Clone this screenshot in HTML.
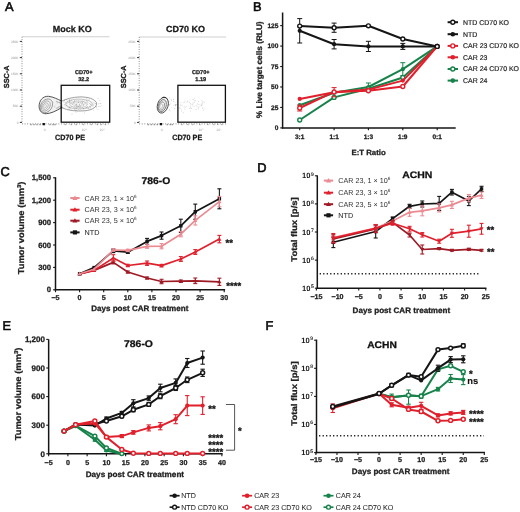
<!DOCTYPE html>
<html><head><meta charset="utf-8"><style>
html,body{margin:0;padding:0;background:#fff;}
body{width:520px;height:512px;overflow:hidden;}
svg{display:block;will-change:transform;filter:blur(0.3px);}
text{font-family:"Liberation Sans", sans-serif;text-rendering:geometricPrecision;}
</style></head><body>
<svg width="520" height="512" viewBox="0 0 520 512">
<rect width="520" height="512" fill="#fff"/>
<text x="4.90" y="11.20" font-size="12.8" font-weight="normal" text-anchor="start" fill="#0a0a0a" stroke="#0a0a0a" stroke-width="0.6">A</text>
<text x="253.00" y="11.00" font-size="12.8" font-weight="normal" text-anchor="start" fill="#0a0a0a" stroke="#0a0a0a" stroke-width="0.6">B</text>
<text x="0.60" y="175.80" font-size="12.8" font-weight="normal" text-anchor="start" fill="#0a0a0a" stroke="#0a0a0a" stroke-width="0.6">C</text>
<text x="257.20" y="172.10" font-size="12.8" font-weight="normal" text-anchor="start" fill="#0a0a0a" stroke="#0a0a0a" stroke-width="0.6">D</text>
<text x="2.40" y="330.00" font-size="12.8" font-weight="normal" text-anchor="start" fill="#0a0a0a" stroke="#0a0a0a" stroke-width="0.6">E</text>
<text x="265.60" y="330.30" font-size="12.8" font-weight="normal" text-anchor="start" fill="#0a0a0a" stroke="#0a0a0a" stroke-width="0.6">F</text>
<text x="52.70" y="31.50" font-size="8.8" font-weight="bold" text-anchor="start" fill="#1a1a1a"  stroke="#1a1a1a" stroke-width="0.28" textLength="39.00" lengthAdjust="spacingAndGlyphs">Mock KO</text>
<line x1="22.00" y1="36.80" x2="109.50" y2="36.80" stroke="#cfcfcf" stroke-width="1.1" />
<line x1="22.00" y1="36.80" x2="22.00" y2="123.00" stroke="#555" stroke-width="0.7" stroke-dasharray="0.9,1.5"/>
<line x1="19.80" y1="122.40" x2="22.00" y2="122.40" stroke="#333" stroke-width="1.0" />
<text x="18.50" y="123.50" font-size="3.2" font-weight="normal" text-anchor="end" fill="#999" stroke="none">0</text>
<line x1="19.80" y1="106.20" x2="22.00" y2="106.20" stroke="#333" stroke-width="1.0" />
<text x="18.50" y="107.30" font-size="3.2" font-weight="normal" text-anchor="end" fill="#999" stroke="none">50K</text>
<line x1="19.80" y1="90.00" x2="22.00" y2="90.00" stroke="#333" stroke-width="1.0" />
<text x="18.50" y="91.10" font-size="3.2" font-weight="normal" text-anchor="end" fill="#999" stroke="none">100K</text>
<line x1="19.80" y1="73.80" x2="22.00" y2="73.80" stroke="#333" stroke-width="1.0" />
<text x="18.50" y="74.90" font-size="3.2" font-weight="normal" text-anchor="end" fill="#999" stroke="none">150K</text>
<line x1="19.80" y1="57.60" x2="22.00" y2="57.60" stroke="#333" stroke-width="1.0" />
<text x="18.50" y="58.70" font-size="3.2" font-weight="normal" text-anchor="end" fill="#999" stroke="none">200K</text>
<line x1="19.80" y1="41.40" x2="22.00" y2="41.40" stroke="#333" stroke-width="1.0" />
<text x="18.50" y="42.50" font-size="3.2" font-weight="normal" text-anchor="end" fill="#999" stroke="none">250K</text>
<line x1="22.00" y1="123.90" x2="109.50" y2="123.90" stroke="#444" stroke-width="0.7" stroke-dasharray="0.9,1.7"/>
<line x1="31.00" y1="123.90" x2="31.00" y2="125.30" stroke="#333" stroke-width="0.7" />
<line x1="34.00" y1="123.90" x2="34.00" y2="125.30" stroke="#333" stroke-width="0.7" />
<line x1="37.00" y1="123.90" x2="37.00" y2="125.30" stroke="#333" stroke-width="0.7" />
<line x1="40.00" y1="123.90" x2="40.00" y2="125.30" stroke="#333" stroke-width="0.7" />
<line x1="44.00" y1="123.90" x2="44.00" y2="125.30" stroke="#333" stroke-width="0.7" />
<line x1="50.00" y1="123.90" x2="50.00" y2="125.30" stroke="#333" stroke-width="0.7" />
<line x1="53.00" y1="123.90" x2="53.00" y2="125.30" stroke="#333" stroke-width="0.7" />
<line x1="55.00" y1="123.90" x2="55.00" y2="125.30" stroke="#333" stroke-width="0.7" />
<rect x="42.50" y="123.00" width="2.4" height="2.2" fill="#111"/>
<line x1="65.20" y1="123.90" x2="65.20" y2="125.20" stroke="#444" stroke-width="0.6" />
<line x1="71.20" y1="123.90" x2="71.20" y2="125.20" stroke="#444" stroke-width="0.6" />
<line x1="76.20" y1="123.90" x2="76.20" y2="125.20" stroke="#444" stroke-width="0.6" />
<line x1="83.20" y1="123.90" x2="83.20" y2="125.20" stroke="#444" stroke-width="0.6" />
<line x1="91.20" y1="123.90" x2="91.20" y2="125.20" stroke="#444" stroke-width="0.6" />
<line x1="97.20" y1="123.90" x2="97.20" y2="125.20" stroke="#444" stroke-width="0.6" />
<line x1="101.20" y1="123.90" x2="101.20" y2="125.20" stroke="#444" stroke-width="0.6" />
<line x1="105.20" y1="123.90" x2="105.20" y2="125.20" stroke="#444" stroke-width="0.6" />
<text x="44.60" y="130.50" font-size="3.4" font-weight="normal" text-anchor="middle" fill="#999" stroke="none">0</text>
<text x="84.20" y="130.50" font-size="3.4" font-weight="normal" text-anchor="middle" fill="#999" stroke="none">10³</text>
<text x="102.20" y="130.50" font-size="3.4" font-weight="normal" text-anchor="middle" fill="#999" stroke="none">10⁴</text>
<text transform="translate(8.50,76.80) rotate(-90)" font-size="7.3" font-weight="bold" text-anchor="middle" fill="#1a1a1a" textLength="22.80" lengthAdjust="spacingAndGlyphs" stroke="#1a1a1a" stroke-width="0.28">SSC-A</text>
<text x="70.00" y="140.40" font-size="7.6" font-weight="bold" text-anchor="middle" fill="#1a1a1a"  stroke="#1a1a1a" stroke-width="0.28" textLength="30.00" lengthAdjust="spacingAndGlyphs">CD70 PE</text>
<path d="M61.5,101.2 C66,99.0 72,97.2 80,96.9 C88,96.9 94,98.6 96.5,102.6 C97.5,106.5 93,110.0 85,110.8 C76,111.5 68,110.5 61.5,107.6" fill="#fafafa" stroke="#6e6e6e" stroke-width="0.65"/>
<ellipse cx="79" cy="104" rx="13.5" ry="4.9" fill="none" stroke="#999" stroke-width="0.55"/>
<ellipse cx="78.5" cy="104.3" rx="9.0" ry="3.2" fill="none" stroke="#aaa" stroke-width="0.55"/>
<ellipse cx="78" cy="104.5" rx="5.0" ry="1.8" fill="none" stroke="#bbb" stroke-width="0.5"/>
<path d="M61.5,100.9 C57.5,99.2 53.5,96.9 48.5,96.3 C42.5,95.9 39.0,101.0 39.1,106.6 C39.3,111.2 42.2,113.9 46.2,113.7 C50.5,113.5 55.5,111.4 61.5,107.7" fill="#f1f1f1" stroke="#4a4a4a" stroke-width="0.95"/>
<path d="M56,101.2 C58,102.2 59.8,103.0 61.5,103.6 M56,108.6 C58,107.3 59.8,106.4 61.5,105.8" fill="none" stroke="#888" stroke-width="0.55"/>
<g transform="rotate(35 46.4 105.8)"><ellipse cx="46.4" cy="105.8" rx="5.6" ry="7.4" fill="none" stroke="#7a7a7a" stroke-width="0.65"/><ellipse cx="46.0" cy="106.3" rx="4.0" ry="5.5" fill="none" stroke="#888" stroke-width="0.6"/><ellipse cx="45.7" cy="106.7" rx="2.6" ry="3.6" fill="none" stroke="#999" stroke-width="0.55"/><ellipse cx="45.5" cy="107.0" rx="1.3" ry="1.8" fill="none" stroke="#aaa" stroke-width="0.5"/></g>
<rect x="76.2" y="105.8" width="0.6" height="0.6" fill="rgb(193,193,193)"/>
<rect x="98.5" y="106.0" width="0.6" height="0.6" fill="rgb(122,122,122)"/>
<rect x="76.5" y="104.9" width="0.6" height="0.6" fill="rgb(174,174,174)"/>
<rect x="80.0" y="105.5" width="0.6" height="0.6" fill="rgb(163,163,163)"/>
<rect x="83.3" y="104.7" width="0.6" height="0.6" fill="rgb(164,164,164)"/>
<rect x="92.2" y="105.7" width="0.6" height="0.6" fill="rgb(138,138,138)"/>
<rect x="69.1" y="100.5" width="0.6" height="0.6" fill="rgb(117,117,117)"/>
<rect x="69.2" y="102.3" width="0.6" height="0.6" fill="rgb(138,138,138)"/>
<rect x="99.8" y="106.1" width="0.6" height="0.6" fill="rgb(147,147,147)"/>
<rect x="67.0" y="106.2" width="0.6" height="0.6" fill="rgb(183,183,183)"/>
<rect x="71.7" y="110.2" width="0.6" height="0.6" fill="rgb(133,133,133)"/>
<rect x="90.4" y="106.8" width="0.6" height="0.6" fill="rgb(134,134,134)"/>
<rect x="69.4" y="107.3" width="0.6" height="0.6" fill="rgb(118,118,118)"/>
<rect x="65.0" y="102.0" width="0.6" height="0.6" fill="rgb(173,173,173)"/>
<rect x="74.1" y="100.6" width="0.6" height="0.6" fill="rgb(150,150,150)"/>
<rect x="54.6" y="105.8" width="0.6" height="0.6" fill="rgb(156,156,156)"/>
<rect x="73.0" y="110.1" width="0.6" height="0.6" fill="rgb(199,199,199)"/>
<rect x="79.8" y="102.5" width="0.6" height="0.6" fill="rgb(148,148,148)"/>
<rect x="56.8" y="102.8" width="0.6" height="0.6" fill="rgb(167,167,167)"/>
<rect x="71.7" y="113.8" width="0.6" height="0.6" fill="rgb(125,125,125)"/>
<rect x="72.4" y="103.8" width="0.6" height="0.6" fill="rgb(153,153,153)"/>
<rect x="86.4" y="107.4" width="0.6" height="0.6" fill="rgb(115,115,115)"/>
<rect x="83.3" y="103.7" width="0.6" height="0.6" fill="rgb(181,181,181)"/>
<rect x="58.9" y="100.7" width="0.6" height="0.6" fill="rgb(150,150,150)"/>
<rect x="73.5" y="106.8" width="0.6" height="0.6" fill="rgb(173,173,173)"/>
<rect x="68.4" y="102.1" width="0.6" height="0.6" fill="rgb(121,121,121)"/>
<rect x="90.7" y="102.6" width="0.6" height="0.6" fill="rgb(195,195,195)"/>
<rect x="95.4" y="106.3" width="0.6" height="0.6" fill="rgb(149,149,149)"/>
<rect x="82.9" y="101.3" width="0.6" height="0.6" fill="rgb(159,159,159)"/>
<rect x="86.7" y="101.8" width="0.6" height="0.6" fill="rgb(169,169,169)"/>
<rect x="69.7" y="107.9" width="0.6" height="0.6" fill="rgb(173,173,173)"/>
<rect x="96.5" y="106.2" width="0.6" height="0.6" fill="rgb(126,126,126)"/>
<rect x="78.2" y="100.4" width="0.6" height="0.6" fill="rgb(173,173,173)"/>
<rect x="89.5" y="105.9" width="0.6" height="0.6" fill="rgb(180,180,180)"/>
<rect x="78.0" y="105.9" width="0.6" height="0.6" fill="rgb(165,165,165)"/>
<rect x="84.8" y="101.8" width="0.6" height="0.6" fill="rgb(163,163,163)"/>
<rect x="95.6" y="103.5" width="0.6" height="0.6" fill="rgb(158,158,158)"/>
<rect x="85.1" y="103.5" width="0.6" height="0.6" fill="rgb(132,132,132)"/>
<rect x="88.4" y="108.3" width="0.6" height="0.6" fill="rgb(111,111,111)"/>
<rect x="64.4" y="104.5" width="0.6" height="0.6" fill="rgb(143,143,143)"/>
<rect x="77.8" y="106.0" width="0.6" height="0.6" fill="rgb(178,178,178)"/>
<rect x="69.3" y="107.4" width="0.6" height="0.6" fill="rgb(126,126,126)"/>
<rect x="74.2" y="100.0" width="0.6" height="0.6" fill="rgb(189,189,189)"/>
<rect x="68.9" y="99.1" width="0.6" height="0.6" fill="rgb(168,168,168)"/>
<rect x="94.5" y="100.3" width="0.6" height="0.6" fill="rgb(197,197,197)"/>
<rect x="82.3" y="100.6" width="0.6" height="0.6" fill="rgb(161,161,161)"/>
<rect x="69.1" y="106.5" width="0.6" height="0.6" fill="rgb(161,161,161)"/>
<rect x="82.8" y="104.5" width="0.6" height="0.6" fill="rgb(136,136,136)"/>
<rect x="74.1" y="104.6" width="0.6" height="0.6" fill="rgb(186,186,186)"/>
<rect x="79.2" y="104.0" width="0.6" height="0.6" fill="rgb(129,129,129)"/>
<rect x="52.9" y="102.0" width="0.6" height="0.6" fill="rgb(188,188,188)"/>
<rect x="101.1" y="105.2" width="0.6" height="0.6" fill="rgb(188,188,188)"/>
<rect x="67.9" y="107.6" width="0.6" height="0.6" fill="rgb(154,154,154)"/>
<rect x="69.0" y="101.6" width="0.6" height="0.6" fill="rgb(124,124,124)"/>
<rect x="66.6" y="104.9" width="0.6" height="0.6" fill="rgb(120,120,120)"/>
<rect x="90.3" y="108.7" width="0.6" height="0.6" fill="rgb(143,143,143)"/>
<rect x="62.3" y="104.7" width="0.6" height="0.6" fill="rgb(176,176,176)"/>
<rect x="72.9" y="103.6" width="0.6" height="0.6" fill="rgb(179,179,179)"/>
<rect x="94.9" y="100.9" width="0.6" height="0.6" fill="rgb(148,148,148)"/>
<rect x="100.7" y="103.0" width="0.6" height="0.6" fill="rgb(199,199,199)"/>
<rect x="86.5" y="100.4" width="0.6" height="0.6" fill="rgb(131,131,131)"/>
<rect x="74.2" y="106.0" width="0.6" height="0.6" fill="rgb(179,179,179)"/>
<rect x="80.8" y="100.8" width="0.6" height="0.6" fill="rgb(138,138,138)"/>
<rect x="64.3" y="99.9" width="0.6" height="0.6" fill="rgb(134,134,134)"/>
<rect x="86.0" y="97.8" width="0.6" height="0.6" fill="rgb(139,139,139)"/>
<rect x="83.0" y="108.0" width="0.6" height="0.6" fill="rgb(113,113,113)"/>
<rect x="98.4" y="103.6" width="0.6" height="0.6" fill="rgb(170,170,170)"/>
<rect x="78.0" y="109.5" width="0.6" height="0.6" fill="rgb(154,154,154)"/>
<rect x="54.5" y="106.8" width="0.6" height="0.6" fill="rgb(154,154,154)"/>
<rect x="89.1" y="103.0" width="0.6" height="0.6" fill="rgb(138,138,138)"/>
<rect x="88.9" y="106.4" width="0.6" height="0.6" fill="rgb(153,153,153)"/>
<rect x="83.4" y="108.8" width="0.6" height="0.6" fill="rgb(188,188,188)"/>
<rect x="85.8" y="100.5" width="0.6" height="0.6" fill="rgb(193,193,193)"/>
<rect x="70.2" y="108.3" width="0.6" height="0.6" fill="rgb(194,194,194)"/>
<rect x="87.0" y="106.4" width="0.6" height="0.6" fill="rgb(135,135,135)"/>
<rect x="72.2" y="104.3" width="0.6" height="0.6" fill="rgb(191,191,191)"/>
<rect x="69.2" y="109.6" width="0.6" height="0.6" fill="rgb(160,160,160)"/>
<rect x="61.3" y="105.4" width="0.6" height="0.6" fill="rgb(120,120,120)"/>
<rect x="77.9" y="101.8" width="0.6" height="0.6" fill="rgb(126,126,126)"/>
<rect x="93.5" y="104.8" width="0.6" height="0.6" fill="rgb(169,169,169)"/>
<rect x="81.1" y="102.1" width="0.6" height="0.6" fill="rgb(186,186,186)"/>
<rect x="95.0" y="103.3" width="0.6" height="0.6" fill="rgb(154,154,154)"/>
<rect x="86.7" y="107.8" width="0.6" height="0.6" fill="rgb(112,112,112)"/>
<rect x="71.1" y="100.4" width="0.6" height="0.6" fill="rgb(127,127,127)"/>
<rect x="58.6" y="106.9" width="0.6" height="0.6" fill="rgb(137,137,137)"/>
<rect x="86.5" y="104.4" width="0.6" height="0.6" fill="rgb(174,174,174)"/>
<rect x="79.9" y="108.8" width="0.6" height="0.6" fill="rgb(143,143,143)"/>
<rect x="59.0" y="102.1" width="0.6" height="0.6" fill="rgb(117,117,117)"/>
<rect x="87.7" y="102.2" width="0.6" height="0.6" fill="rgb(168,168,168)"/>
<rect x="68.4" y="98.4" width="0.6" height="0.6" fill="rgb(176,176,176)"/>
<rect x="57.4" y="107.8" width="0.6" height="0.6" fill="rgb(174,174,174)"/>
<rect x="83.3" y="105.5" width="0.6" height="0.6" fill="rgb(175,175,175)"/>
<rect x="90.8" y="104.5" width="0.6" height="0.6" fill="rgb(133,133,133)"/>
<rect x="64.2" y="100.1" width="0.6" height="0.6" fill="rgb(129,129,129)"/>
<rect x="84.8" y="107.6" width="0.6" height="0.6" fill="rgb(125,125,125)"/>
<rect x="69.8" y="102.9" width="0.6" height="0.6" fill="rgb(176,176,176)"/>
<rect x="66.6" y="103.2" width="0.6" height="0.6" fill="rgb(123,123,123)"/>
<rect x="81.8" y="103.2" width="0.6" height="0.6" fill="rgb(134,134,134)"/>
<rect x="75.8" y="110.1" width="0.6" height="0.6" fill="rgb(174,174,174)"/>
<rect x="76.5" y="104.3" width="0.6" height="0.6" fill="rgb(118,118,118)"/>
<rect x="64.8" y="105.7" width="0.6" height="0.6" fill="rgb(174,174,174)"/>
<rect x="73.2" y="102.5" width="0.6" height="0.6" fill="rgb(145,145,145)"/>
<rect x="66.0" y="105.3" width="0.6" height="0.6" fill="rgb(171,171,171)"/>
<rect x="70.7" y="103.9" width="0.6" height="0.6" fill="rgb(176,176,176)"/>
<rect x="97.7" y="98.0" width="0.6" height="0.6" fill="rgb(143,143,143)"/>
<rect x="99.6" y="100.5" width="0.6" height="0.6" fill="rgb(135,135,135)"/>
<rect x="82.2" y="102.3" width="0.6" height="0.6" fill="rgb(125,125,125)"/>
<rect x="71.5" y="106.0" width="0.6" height="0.6" fill="rgb(195,195,195)"/>
<rect x="79.3" y="105.4" width="0.6" height="0.6" fill="rgb(195,195,195)"/>
<rect x="77.2" y="105.7" width="0.6" height="0.6" fill="rgb(129,129,129)"/>
<rect x="93.7" y="102.1" width="0.6" height="0.6" fill="rgb(156,156,156)"/>
<rect x="93.2" y="109.8" width="0.6" height="0.6" fill="rgb(169,169,169)"/>
<rect x="84.2" y="112.7" width="0.6" height="0.6" fill="rgb(160,160,160)"/>
<rect x="83.9" y="102.6" width="0.6" height="0.6" fill="rgb(195,195,195)"/>
<rect x="82.2" y="102.1" width="0.6" height="0.6" fill="rgb(165,165,165)"/>
<rect x="90.2" y="103.9" width="0.6" height="0.6" fill="rgb(163,163,163)"/>
<rect x="82.2" y="107.0" width="0.6" height="0.6" fill="rgb(156,156,156)"/>
<rect x="92.9" y="104.6" width="0.6" height="0.6" fill="rgb(166,166,166)"/>
<rect x="75.9" y="100.6" width="0.6" height="0.6" fill="rgb(176,176,176)"/>
<rect x="69.6" y="101.0" width="0.6" height="0.6" fill="rgb(118,118,118)"/>
<rect x="97.7" y="109.2" width="0.6" height="0.6" fill="rgb(139,139,139)"/>
<rect x="84.1" y="103.7" width="0.6" height="0.6" fill="rgb(143,143,143)"/>
<rect x="75.7" y="111.8" width="0.6" height="0.6" fill="rgb(133,133,133)"/>
<rect x="78.3" y="105.9" width="0.6" height="0.6" fill="rgb(164,164,164)"/>
<rect x="88.7" y="99.6" width="0.6" height="0.6" fill="rgb(143,143,143)"/>
<rect x="67.7" y="106.5" width="0.6" height="0.6" fill="rgb(175,175,175)"/>
<rect x="63.6" y="101.6" width="0.6" height="0.6" fill="rgb(121,121,121)"/>
<rect x="75.4" y="110.3" width="0.6" height="0.6" fill="rgb(133,133,133)"/>
<rect x="75.2" y="104.6" width="0.6" height="0.6" fill="rgb(112,112,112)"/>
<rect x="65.9" y="99.2" width="0.6" height="0.6" fill="rgb(120,120,120)"/>
<rect x="72.9" y="102.4" width="0.6" height="0.6" fill="rgb(143,143,143)"/>
<rect x="86.9" y="101.0" width="0.6" height="0.6" fill="rgb(153,153,153)"/>
<rect x="90.4" y="103.9" width="0.6" height="0.6" fill="rgb(144,144,144)"/>
<rect x="76.6" y="103.3" width="0.6" height="0.6" fill="rgb(200,200,200)"/>
<rect x="79.4" y="105.7" width="0.6" height="0.6" fill="rgb(130,130,130)"/>
<rect x="78.5" y="106.3" width="0.6" height="0.6" fill="rgb(149,149,149)"/>
<rect x="69.7" y="100.8" width="0.6" height="0.6" fill="rgb(136,136,136)"/>
<rect x="75.8" y="108.1" width="0.6" height="0.6" fill="rgb(132,132,132)"/>
<rect x="76.4" y="110.4" width="0.6" height="0.6" fill="rgb(142,142,142)"/>
<rect x="81.1" y="104.2" width="0.6" height="0.6" fill="rgb(174,174,174)"/>
<rect x="72.2" y="103.3" width="0.6" height="0.6" fill="rgb(170,170,170)"/>
<rect x="79.3" y="107.9" width="0.6" height="0.6" fill="rgb(194,194,194)"/>
<rect x="83.9" y="100.5" width="0.6" height="0.6" fill="rgb(173,173,173)"/>
<rect x="56.9" y="101.9" width="0.6" height="0.6" fill="rgb(174,174,174)"/>
<rect x="76.3" y="106.3" width="0.6" height="0.6" fill="rgb(139,139,139)"/>
<rect x="67.6" y="109.7" width="0.6" height="0.6" fill="rgb(200,200,200)"/>
<rect x="78.2" y="102.0" width="0.6" height="0.6" fill="rgb(154,154,154)"/>
<rect x="99.8" y="103.2" width="0.6" height="0.6" fill="rgb(111,111,111)"/>
<rect x="95.3" y="106.5" width="0.6" height="0.6" fill="rgb(142,142,142)"/>
<rect x="75.6" y="104.5" width="0.6" height="0.6" fill="rgb(195,195,195)"/>
<rect x="91.1" y="97.9" width="0.6" height="0.6" fill="rgb(195,195,195)"/>
<rect x="93.6" y="103.1" width="0.6" height="0.6" fill="rgb(198,198,198)"/>
<rect x="75.7" y="107.8" width="0.6" height="0.6" fill="rgb(130,130,130)"/>
<rect x="78.9" y="104.3" width="0.6" height="0.6" fill="rgb(156,156,156)"/>
<rect x="71.1" y="103.2" width="0.6" height="0.6" fill="rgb(149,149,149)"/>
<rect x="80.4" y="106.2" width="0.6" height="0.6" fill="rgb(152,152,152)"/>
<rect x="69.8" y="106.8" width="0.6" height="0.6" fill="rgb(174,174,174)"/>
<rect x="74.4" y="101.7" width="0.6" height="0.6" fill="rgb(110,110,110)"/>
<rect x="96.1" y="107.6" width="0.6" height="0.6" fill="rgb(128,128,128)"/>
<rect x="76.4" y="104.6" width="0.6" height="0.6" fill="rgb(112,112,112)"/>
<rect x="74.2" y="108.8" width="0.6" height="0.6" fill="rgb(120,120,120)"/>
<rect x="67.4" y="101.7" width="0.6" height="0.6" fill="rgb(129,129,129)"/>
<rect x="69.4" y="99.2" width="0.6" height="0.6" fill="rgb(186,186,186)"/>
<rect x="71.5" y="106.0" width="0.6" height="0.6" fill="rgb(173,173,173)"/>
<rect x="89.4" y="108.7" width="0.6" height="0.6" fill="rgb(192,192,192)"/>
<circle cx="61.5" cy="107.3" r="0.9" fill="#222"/>
<rect x="61.20" y="85.30" width="48.50" height="36.90" fill="none" stroke="#111" stroke-width="1.3"/>
<text x="83.70" y="74.20" font-size="5.6" font-weight="bold" text-anchor="middle" fill="#222"  stroke="#222" stroke-width="0.28">CD70+</text>
<text x="83.70" y="80.60" font-size="5.6" font-weight="bold" text-anchor="middle" fill="#222"  stroke="#222" stroke-width="0.28">32.2</text>
<text x="165.90" y="31.50" font-size="8.8" font-weight="bold" text-anchor="start" fill="#1a1a1a"  stroke="#1a1a1a" stroke-width="0.28" textLength="39.00" lengthAdjust="spacingAndGlyphs">CD70 KO</text>
<line x1="139.20" y1="37.00" x2="226.00" y2="37.00" stroke="#cfcfcf" stroke-width="1.1" />
<line x1="139.20" y1="37.00" x2="139.20" y2="123.00" stroke="#555" stroke-width="0.7" stroke-dasharray="0.9,1.5"/>
<line x1="137.00" y1="122.40" x2="139.20" y2="122.40" stroke="#333" stroke-width="1.0" />
<text x="135.70" y="123.50" font-size="3.2" font-weight="normal" text-anchor="end" fill="#999" stroke="none">0</text>
<line x1="137.00" y1="106.20" x2="139.20" y2="106.20" stroke="#333" stroke-width="1.0" />
<text x="135.70" y="107.30" font-size="3.2" font-weight="normal" text-anchor="end" fill="#999" stroke="none">50K</text>
<line x1="137.00" y1="90.00" x2="139.20" y2="90.00" stroke="#333" stroke-width="1.0" />
<text x="135.70" y="91.10" font-size="3.2" font-weight="normal" text-anchor="end" fill="#999" stroke="none">100K</text>
<line x1="137.00" y1="73.80" x2="139.20" y2="73.80" stroke="#333" stroke-width="1.0" />
<text x="135.70" y="74.90" font-size="3.2" font-weight="normal" text-anchor="end" fill="#999" stroke="none">150K</text>
<line x1="137.00" y1="57.60" x2="139.20" y2="57.60" stroke="#333" stroke-width="1.0" />
<text x="135.70" y="58.70" font-size="3.2" font-weight="normal" text-anchor="end" fill="#999" stroke="none">200K</text>
<line x1="137.00" y1="41.40" x2="139.20" y2="41.40" stroke="#333" stroke-width="1.0" />
<text x="135.70" y="42.50" font-size="3.2" font-weight="normal" text-anchor="end" fill="#999" stroke="none">250K</text>
<line x1="139.20" y1="123.90" x2="226.00" y2="123.90" stroke="#444" stroke-width="0.7" stroke-dasharray="0.9,1.7"/>
<line x1="148.20" y1="123.90" x2="148.20" y2="125.30" stroke="#333" stroke-width="0.7" />
<line x1="151.20" y1="123.90" x2="151.20" y2="125.30" stroke="#333" stroke-width="0.7" />
<line x1="154.20" y1="123.90" x2="154.20" y2="125.30" stroke="#333" stroke-width="0.7" />
<line x1="157.20" y1="123.90" x2="157.20" y2="125.30" stroke="#333" stroke-width="0.7" />
<line x1="161.20" y1="123.90" x2="161.20" y2="125.30" stroke="#333" stroke-width="0.7" />
<line x1="167.20" y1="123.90" x2="167.20" y2="125.30" stroke="#333" stroke-width="0.7" />
<line x1="170.20" y1="123.90" x2="170.20" y2="125.30" stroke="#333" stroke-width="0.7" />
<line x1="172.20" y1="123.90" x2="172.20" y2="125.30" stroke="#333" stroke-width="0.7" />
<rect x="159.70" y="123.00" width="2.4" height="2.2" fill="#111"/>
<line x1="181.90" y1="123.90" x2="181.90" y2="125.20" stroke="#444" stroke-width="0.6" />
<line x1="187.90" y1="123.90" x2="187.90" y2="125.20" stroke="#444" stroke-width="0.6" />
<line x1="192.90" y1="123.90" x2="192.90" y2="125.20" stroke="#444" stroke-width="0.6" />
<line x1="199.90" y1="123.90" x2="199.90" y2="125.20" stroke="#444" stroke-width="0.6" />
<line x1="207.90" y1="123.90" x2="207.90" y2="125.20" stroke="#444" stroke-width="0.6" />
<line x1="213.90" y1="123.90" x2="213.90" y2="125.20" stroke="#444" stroke-width="0.6" />
<line x1="217.90" y1="123.90" x2="217.90" y2="125.20" stroke="#444" stroke-width="0.6" />
<line x1="221.90" y1="123.90" x2="221.90" y2="125.20" stroke="#444" stroke-width="0.6" />
<text x="161.80" y="130.50" font-size="3.4" font-weight="normal" text-anchor="middle" fill="#999" stroke="none">0</text>
<text x="200.90" y="130.50" font-size="3.4" font-weight="normal" text-anchor="middle" fill="#999" stroke="none">10³</text>
<text x="218.90" y="130.50" font-size="3.4" font-weight="normal" text-anchor="middle" fill="#999" stroke="none">10⁴</text>
<text transform="translate(125.70,76.80) rotate(-90)" font-size="7.3" font-weight="bold" text-anchor="middle" fill="#1a1a1a" textLength="22.80" lengthAdjust="spacingAndGlyphs" stroke="#1a1a1a" stroke-width="0.28">SSC-A</text>
<text x="187.20" y="140.40" font-size="7.6" font-weight="bold" text-anchor="middle" fill="#1a1a1a"  stroke="#1a1a1a" stroke-width="0.28" textLength="30.00" lengthAdjust="spacingAndGlyphs">CD70 PE</text>
<g transform="rotate(18 162.8 105.2)"><ellipse cx="162.8" cy="105.2" rx="5.3" ry="8.1" fill="#f2f2f2" stroke="#4a4a4a" stroke-width="0.9"/><ellipse cx="162.4" cy="105.8" rx="3.9" ry="6.2" fill="none" stroke="#6a6a6a" stroke-width="0.8"/><ellipse cx="162.0" cy="106.3" rx="2.6" ry="4.4" fill="none" stroke="#7a7a7a" stroke-width="0.7"/><ellipse cx="161.6" cy="106.6" rx="1.2" ry="2.5" fill="#fff" stroke="#999" stroke-width="0.5"/></g>
<path d="M162.5,97.5 C164.5,96.8 166.5,97.6 167.2,99.2" fill="none" stroke="#222" stroke-width="1.0"/>
<rect x="171.5" y="107.2" width="0.6" height="0.6" fill="rgb(215,215,215)"/>
<rect x="189.8" y="99.1" width="0.6" height="0.6" fill="rgb(214,214,214)"/>
<rect x="171.3" y="100.0" width="0.6" height="0.6" fill="rgb(152,152,152)"/>
<rect x="197.4" y="103.8" width="0.6" height="0.6" fill="rgb(179,179,179)"/>
<rect x="169.2" y="109.7" width="0.6" height="0.6" fill="rgb(163,163,163)"/>
<rect x="180.3" y="105.9" width="0.6" height="0.6" fill="rgb(207,207,207)"/>
<rect x="187.2" y="100.8" width="0.6" height="0.6" fill="rgb(181,181,181)"/>
<rect x="184.6" y="100.7" width="0.6" height="0.6" fill="rgb(150,150,150)"/>
<rect x="183.4" y="112.5" width="0.6" height="0.6" fill="rgb(161,161,161)"/>
<rect x="191.1" y="108.3" width="0.6" height="0.6" fill="rgb(158,158,158)"/>
<rect x="194.3" y="97.7" width="0.6" height="0.6" fill="rgb(183,183,183)"/>
<rect x="174.9" y="105.6" width="0.6" height="0.6" fill="rgb(176,176,176)"/>
<rect x="174.8" y="102.0" width="0.6" height="0.6" fill="rgb(198,198,198)"/>
<rect x="168.9" y="101.1" width="0.6" height="0.6" fill="rgb(186,186,186)"/>
<rect x="195.1" y="100.5" width="0.6" height="0.6" fill="rgb(159,159,159)"/>
<rect x="188.8" y="100.8" width="0.6" height="0.6" fill="rgb(192,192,192)"/>
<rect x="175.6" y="104.4" width="0.6" height="0.6" fill="rgb(167,167,167)"/>
<rect x="166.5" y="101.3" width="0.6" height="0.6" fill="rgb(157,157,157)"/>
<rect x="184.5" y="106.2" width="0.6" height="0.6" fill="rgb(177,177,177)"/>
<rect x="191.7" y="104.2" width="0.6" height="0.6" fill="rgb(187,187,187)"/>
<rect x="192.9" y="103.6" width="0.6" height="0.6" fill="rgb(165,165,165)"/>
<rect x="203.7" y="108.7" width="0.6" height="0.6" fill="rgb(175,175,175)"/>
<rect x="177.8" y="108.2" width="0.6" height="0.6" fill="rgb(187,187,187)"/>
<rect x="183.4" y="106.7" width="0.6" height="0.6" fill="rgb(214,214,214)"/>
<rect x="202.8" y="101.6" width="0.6" height="0.6" fill="rgb(176,176,176)"/>
<rect x="200.8" y="105.4" width="0.6" height="0.6" fill="rgb(176,176,176)"/>
<rect x="168.8" y="109.8" width="0.6" height="0.6" fill="rgb(183,183,183)"/>
<rect x="202.2" y="107.9" width="0.6" height="0.6" fill="rgb(166,166,166)"/>
<rect x="188.9" y="102.4" width="0.6" height="0.6" fill="rgb(164,164,164)"/>
<rect x="192.7" y="102.2" width="0.6" height="0.6" fill="rgb(179,179,179)"/>
<rect x="184.9" y="107.2" width="0.6" height="0.6" fill="rgb(170,170,170)"/>
<rect x="166.1" y="101.8" width="0.6" height="0.6" fill="rgb(212,212,212)"/>
<rect x="191.9" y="99.4" width="0.6" height="0.6" fill="rgb(203,203,203)"/>
<rect x="179.1" y="107.9" width="0.6" height="0.6" fill="rgb(190,190,190)"/>
<rect x="170.6" y="102.9" width="0.6" height="0.6" fill="rgb(193,193,193)"/>
<rect x="197.9" y="107.4" width="0.6" height="0.6" fill="rgb(165,165,165)"/>
<rect x="201.7" y="104.7" width="0.6" height="0.6" fill="rgb(187,187,187)"/>
<rect x="175.6" y="105.0" width="0.6" height="0.6" fill="rgb(158,158,158)"/>
<rect x="180.9" y="109.6" width="0.6" height="0.6" fill="rgb(196,196,196)"/>
<rect x="201.2" y="104.5" width="0.6" height="0.6" fill="rgb(185,185,185)"/>
<rect x="198.5" y="104.3" width="0.6" height="0.6" fill="rgb(186,186,186)"/>
<rect x="190.1" y="105.7" width="0.6" height="0.6" fill="rgb(169,169,169)"/>
<rect x="175.5" y="104.1" width="0.6" height="0.6" fill="rgb(174,174,174)"/>
<rect x="195.4" y="109.0" width="0.6" height="0.6" fill="rgb(204,204,204)"/>
<rect x="199.6" y="106.5" width="0.6" height="0.6" fill="rgb(176,176,176)"/>
<rect x="193.3" y="99.5" width="0.6" height="0.6" fill="rgb(156,156,156)"/>
<rect x="201.5" y="100.1" width="0.6" height="0.6" fill="rgb(167,167,167)"/>
<rect x="190.5" y="107.3" width="0.6" height="0.6" fill="rgb(186,186,186)"/>
<rect x="184.5" y="108.6" width="0.6" height="0.6" fill="rgb(171,171,171)"/>
<rect x="183.9" y="102.0" width="0.6" height="0.6" fill="rgb(193,193,193)"/>
<rect x="176.7" y="104.3" width="0.6" height="0.6" fill="rgb(183,183,183)"/>
<rect x="181.4" y="110.7" width="0.6" height="0.6" fill="rgb(180,180,180)"/>
<rect x="177.4" y="100.9" width="0.6" height="0.6" fill="rgb(171,171,171)"/>
<rect x="190.4" y="103.2" width="0.6" height="0.6" fill="rgb(159,159,159)"/>
<rect x="173.9" y="108.2" width="0.6" height="0.6" fill="rgb(178,178,178)"/>
<rect x="183.2" y="102.0" width="0.6" height="0.6" fill="rgb(192,192,192)"/>
<rect x="203.9" y="102.5" width="0.6" height="0.6" fill="rgb(174,174,174)"/>
<rect x="175.3" y="105.1" width="0.6" height="0.6" fill="rgb(172,172,172)"/>
<rect x="179.0" y="106.9" width="0.6" height="0.6" fill="rgb(183,183,183)"/>
<rect x="196.8" y="106.0" width="0.6" height="0.6" fill="rgb(175,175,175)"/>
<rect x="199.7" y="104.5" width="0.6" height="0.6" fill="rgb(202,202,202)"/>
<rect x="194.3" y="100.6" width="0.6" height="0.6" fill="rgb(176,176,176)"/>
<rect x="180.3" y="103.8" width="0.6" height="0.6" fill="rgb(185,185,185)"/>
<rect x="187.8" y="105.7" width="0.6" height="0.6" fill="rgb(196,196,196)"/>
<rect x="170.8" y="99.1" width="0.6" height="0.6" fill="rgb(177,177,177)"/>
<rect x="169.5" y="104.4" width="0.6" height="0.6" fill="rgb(181,181,181)"/>
<rect x="180.6" y="102.0" width="0.6" height="0.6" fill="rgb(189,189,189)"/>
<rect x="198.2" y="101.3" width="0.6" height="0.6" fill="rgb(152,152,152)"/>
<rect x="170.8" y="98.7" width="0.6" height="0.6" fill="rgb(210,210,210)"/>
<rect x="202.8" y="107.4" width="0.6" height="0.6" fill="rgb(212,212,212)"/>
<rect x="166.0" y="97.8" width="0.6" height="0.6" fill="rgb(209,209,209)"/>
<rect x="202.9" y="110.0" width="0.6" height="0.6" fill="rgb(181,181,181)"/>
<rect x="195.8" y="104.9" width="0.6" height="0.6" fill="rgb(163,163,163)"/>
<rect x="201.8" y="106.7" width="0.6" height="0.6" fill="rgb(208,208,208)"/>
<rect x="169.2" y="104.5" width="0.6" height="0.6" fill="rgb(166,166,166)"/>
<rect x="174.8" y="104.3" width="0.6" height="0.6" fill="rgb(154,154,154)"/>
<rect x="190.5" y="103.8" width="0.6" height="0.6" fill="rgb(182,182,182)"/>
<rect x="186.1" y="106.4" width="0.6" height="0.6" fill="rgb(205,205,205)"/>
<rect x="192.5" y="105.6" width="0.6" height="0.6" fill="rgb(174,174,174)"/>
<rect x="180.7" y="105.4" width="0.6" height="0.6" fill="rgb(178,178,178)"/>
<rect x="196.0" y="109.2" width="0.6" height="0.6" fill="rgb(208,208,208)"/>
<rect x="176.6" y="104.5" width="0.6" height="0.6" fill="rgb(190,190,190)"/>
<rect x="190.5" y="107.7" width="0.6" height="0.6" fill="rgb(180,180,180)"/>
<rect x="186.8" y="101.6" width="0.6" height="0.6" fill="rgb(153,153,153)"/>
<rect x="202.5" y="103.6" width="0.6" height="0.6" fill="rgb(152,152,152)"/>
<rect x="173.4" y="101.4" width="0.6" height="0.6" fill="rgb(203,203,203)"/>
<rect x="169.1" y="105.1" width="0.6" height="0.6" fill="rgb(197,197,197)"/>
<rect x="174.6" y="108.5" width="0.6" height="0.6" fill="rgb(154,154,154)"/>
<rect x="192.4" y="103.8" width="0.6" height="0.6" fill="rgb(200,200,200)"/>
<rect x="173.5" y="101.0" width="0.6" height="0.6" fill="rgb(187,187,187)"/>
<rect x="194.1" y="101.9" width="0.6" height="0.6" fill="rgb(175,175,175)"/>
<rect x="177.8" y="104.4" width="0.6" height="0.6" fill="rgb(174,174,174)"/>
<rect x="174.8" y="105.6" width="0.6" height="0.6" fill="rgb(187,187,187)"/>
<rect x="170.1" y="110.8" width="0.6" height="0.6" fill="rgb(213,213,213)"/>
<rect x="189.2" y="108.0" width="0.6" height="0.6" fill="rgb(157,157,157)"/>
<rect x="202.1" y="101.8" width="0.6" height="0.6" fill="rgb(168,168,168)"/>
<rect x="201.0" y="105.3" width="0.6" height="0.6" fill="rgb(168,168,168)"/>
<rect x="181.8" y="104.8" width="0.6" height="0.6" fill="rgb(157,157,157)"/>
<rect x="173.0" y="98.8" width="0.6" height="0.6" fill="rgb(190,190,190)"/>
<rect x="193.8" y="106.4" width="0.6" height="0.6" fill="rgb(160,160,160)"/>
<rect x="201.4" y="103.3" width="0.6" height="0.6" fill="rgb(209,209,209)"/>
<rect x="167.2" y="106.6" width="0.6" height="0.6" fill="rgb(198,198,198)"/>
<rect x="197.9" y="108.6" width="0.6" height="0.6" fill="rgb(163,163,163)"/>
<rect x="166.1" y="104.1" width="0.6" height="0.6" fill="rgb(185,185,185)"/>
<rect x="169.1" y="97.6" width="0.6" height="0.6" fill="rgb(176,176,176)"/>
<rect x="180.4" y="108.3" width="0.6" height="0.6" fill="rgb(189,189,189)"/>
<rect x="197.2" y="103.4" width="0.6" height="0.6" fill="rgb(210,210,210)"/>
<rect x="173.4" y="105.0" width="0.6" height="0.6" fill="rgb(207,207,207)"/>
<rect x="173.3" y="99.2" width="0.6" height="0.6" fill="rgb(153,153,153)"/>
<rect x="190.0" y="110.6" width="0.6" height="0.6" fill="rgb(181,181,181)"/>
<rect x="177.90" y="85.30" width="47.50" height="36.90" fill="none" stroke="#111" stroke-width="1.3"/>
<text x="200.80" y="74.20" font-size="5.6" font-weight="bold" text-anchor="middle" fill="#222"  stroke="#222" stroke-width="0.28">CD70+</text>
<text x="200.80" y="80.60" font-size="5.6" font-weight="bold" text-anchor="middle" fill="#222"  stroke="#222" stroke-width="0.28">1.19</text>
<line x1="282.60" y1="12.50" x2="282.60" y2="128.60" stroke="#151515" stroke-width="1.5" />
<line x1="281.90" y1="127.90" x2="455.70" y2="127.90" stroke="#151515" stroke-width="1.5" />
<line x1="280.20" y1="127.90" x2="282.60" y2="127.90" stroke="#151515" stroke-width="1.1" />
<text x="278.40" y="130.20" font-size="6.6" font-weight="bold" text-anchor="end" fill="#222"  stroke="#222" stroke-width="0.28">0</text>
<line x1="280.20" y1="107.44" x2="282.60" y2="107.44" stroke="#151515" stroke-width="1.1" />
<text x="278.40" y="109.74" font-size="6.6" font-weight="bold" text-anchor="end" fill="#222"  stroke="#222" stroke-width="0.28">25</text>
<line x1="280.20" y1="86.98" x2="282.60" y2="86.98" stroke="#151515" stroke-width="1.1" />
<text x="278.40" y="89.28" font-size="6.6" font-weight="bold" text-anchor="end" fill="#222"  stroke="#222" stroke-width="0.28">50</text>
<line x1="280.20" y1="66.52" x2="282.60" y2="66.52" stroke="#151515" stroke-width="1.1" />
<text x="278.40" y="68.82" font-size="6.6" font-weight="bold" text-anchor="end" fill="#222"  stroke="#222" stroke-width="0.28">75</text>
<line x1="280.20" y1="46.06" x2="282.60" y2="46.06" stroke="#151515" stroke-width="1.1" />
<text x="278.40" y="48.36" font-size="6.6" font-weight="bold" text-anchor="end" fill="#222"  stroke="#222" stroke-width="0.28">100</text>
<line x1="280.20" y1="25.60" x2="282.60" y2="25.60" stroke="#151515" stroke-width="1.1" />
<text x="278.40" y="27.90" font-size="6.6" font-weight="bold" text-anchor="end" fill="#222"  stroke="#222" stroke-width="0.28">125</text>
<line x1="299.70" y1="127.90" x2="299.70" y2="130.30" stroke="#151515" stroke-width="1.1" />
<text x="299.70" y="138.60" font-size="6.5" font-weight="bold" text-anchor="middle" fill="#222"  stroke="#222" stroke-width="0.28">3:1</text>
<line x1="334.10" y1="127.90" x2="334.10" y2="130.30" stroke="#151515" stroke-width="1.1" />
<text x="334.10" y="138.60" font-size="6.5" font-weight="bold" text-anchor="middle" fill="#222"  stroke="#222" stroke-width="0.28">1:1</text>
<line x1="368.40" y1="127.90" x2="368.40" y2="130.30" stroke="#151515" stroke-width="1.1" />
<text x="368.40" y="138.60" font-size="6.5" font-weight="bold" text-anchor="middle" fill="#222"  stroke="#222" stroke-width="0.28">1:3</text>
<line x1="402.80" y1="127.90" x2="402.80" y2="130.30" stroke="#151515" stroke-width="1.1" />
<text x="402.80" y="138.60" font-size="6.5" font-weight="bold" text-anchor="middle" fill="#222"  stroke="#222" stroke-width="0.28">1:9</text>
<line x1="437.20" y1="127.90" x2="437.20" y2="130.30" stroke="#151515" stroke-width="1.1" />
<text x="437.20" y="138.60" font-size="6.5" font-weight="bold" text-anchor="middle" fill="#222"  stroke="#222" stroke-width="0.28">0:1</text>
<text x="351.50" y="154.70" font-size="7.6" font-weight="bold" text-anchor="start" fill="#222"  stroke="#222" stroke-width="0.28" textLength="34.20" lengthAdjust="spacingAndGlyphs">E:T Ratio</text>
<text transform="translate(261.70,69.80) rotate(-90)" font-size="8.0" font-weight="bold" text-anchor="middle" fill="#222" textLength="96.80" lengthAdjust="spacingAndGlyphs" stroke="#222" stroke-width="0.28">% Live target cells (RLU)</text>
<polyline points="299.70,105.20 334.10,92.70 368.40,87.00 402.80,69.20 437.20,46.40" fill="none" stroke="#17834A" stroke-width="2.0" stroke-linejoin="round"/>
<line x1="368.40" y1="83.00" x2="368.40" y2="91.00" stroke="#17834A" stroke-width="1.0" />
<line x1="365.90" y1="83.00" x2="370.90" y2="83.00" stroke="#17834A" stroke-width="1.0" />
<line x1="365.90" y1="91.00" x2="370.90" y2="91.00" stroke="#17834A" stroke-width="1.0" />
<line x1="402.80" y1="62.70" x2="402.80" y2="75.70" stroke="#17834A" stroke-width="1.0" />
<line x1="400.30" y1="62.70" x2="405.30" y2="62.70" stroke="#17834A" stroke-width="1.0" />
<line x1="400.30" y1="75.70" x2="405.30" y2="75.70" stroke="#17834A" stroke-width="1.0" />
<circle cx="299.70" cy="105.20" r="2.10" fill="#17834A"/>
<circle cx="334.10" cy="92.70" r="2.10" fill="#17834A"/>
<circle cx="368.40" cy="87.00" r="2.10" fill="#17834A"/>
<circle cx="402.80" cy="69.20" r="2.10" fill="#17834A"/>
<circle cx="437.20" cy="46.40" r="2.10" fill="#17834A"/>
<polyline points="299.70,120.00 334.10,97.40 368.40,88.70 402.80,77.50 437.20,46.40" fill="none" stroke="#17834A" stroke-width="2.0" stroke-linejoin="round"/>
<circle cx="299.70" cy="120.00" r="1.95" fill="#fff" stroke="#17834A" stroke-width="1.4"/>
<circle cx="334.10" cy="97.40" r="1.95" fill="#fff" stroke="#17834A" stroke-width="1.4"/>
<circle cx="368.40" cy="88.70" r="1.95" fill="#fff" stroke="#17834A" stroke-width="1.4"/>
<circle cx="402.80" cy="77.50" r="1.95" fill="#fff" stroke="#17834A" stroke-width="1.4"/>
<circle cx="437.20" cy="46.40" r="1.95" fill="#fff" stroke="#17834A" stroke-width="1.4"/>
<polyline points="299.70,98.90 334.10,92.20 368.40,89.60 402.80,80.60 437.20,46.40" fill="none" stroke="#E0202C" stroke-width="2.0" stroke-linejoin="round"/>
<line x1="334.10" y1="87.60" x2="334.10" y2="96.80" stroke="#E0202C" stroke-width="1.0" />
<line x1="331.60" y1="87.60" x2="336.60" y2="87.60" stroke="#E0202C" stroke-width="1.0" />
<line x1="331.60" y1="96.80" x2="336.60" y2="96.80" stroke="#E0202C" stroke-width="1.0" />
<circle cx="299.70" cy="98.90" r="2.10" fill="#E0202C"/>
<circle cx="334.10" cy="92.20" r="2.10" fill="#E0202C"/>
<circle cx="368.40" cy="89.60" r="2.10" fill="#E0202C"/>
<circle cx="402.80" cy="80.60" r="2.10" fill="#E0202C"/>
<circle cx="437.20" cy="46.40" r="2.10" fill="#E0202C"/>
<polyline points="299.70,108.00 334.10,91.90 368.40,90.80 402.80,86.50 437.20,46.40" fill="none" stroke="#E0202C" stroke-width="2.0" stroke-linejoin="round"/>
<line x1="299.70" y1="105.00" x2="299.70" y2="111.00" stroke="#E0202C" stroke-width="1.0" />
<line x1="297.20" y1="105.00" x2="302.20" y2="105.00" stroke="#E0202C" stroke-width="1.0" />
<line x1="297.20" y1="111.00" x2="302.20" y2="111.00" stroke="#E0202C" stroke-width="1.0" />
<circle cx="299.70" cy="108.00" r="1.95" fill="#fff" stroke="#E0202C" stroke-width="1.4"/>
<circle cx="334.10" cy="91.90" r="1.95" fill="#fff" stroke="#E0202C" stroke-width="1.4"/>
<circle cx="368.40" cy="90.80" r="1.95" fill="#fff" stroke="#E0202C" stroke-width="1.4"/>
<circle cx="402.80" cy="86.50" r="1.95" fill="#fff" stroke="#E0202C" stroke-width="1.4"/>
<circle cx="437.20" cy="46.40" r="1.95" fill="#fff" stroke="#E0202C" stroke-width="1.4"/>
<polyline points="299.70,30.80 334.10,44.20 368.40,46.40 402.80,46.40 437.20,46.40" fill="none" stroke="#151515" stroke-width="2.0" stroke-linejoin="round"/>
<line x1="299.70" y1="18.60" x2="299.70" y2="43.00" stroke="#151515" stroke-width="1.0" />
<line x1="297.20" y1="18.60" x2="302.20" y2="18.60" stroke="#151515" stroke-width="1.0" />
<line x1="297.20" y1="43.00" x2="302.20" y2="43.00" stroke="#151515" stroke-width="1.0" />
<line x1="334.10" y1="39.50" x2="334.10" y2="48.90" stroke="#151515" stroke-width="1.0" />
<line x1="331.60" y1="39.50" x2="336.60" y2="39.50" stroke="#151515" stroke-width="1.0" />
<line x1="331.60" y1="48.90" x2="336.60" y2="48.90" stroke="#151515" stroke-width="1.0" />
<line x1="368.40" y1="41.30" x2="368.40" y2="51.50" stroke="#151515" stroke-width="1.0" />
<line x1="365.90" y1="41.30" x2="370.90" y2="41.30" stroke="#151515" stroke-width="1.0" />
<line x1="365.90" y1="51.50" x2="370.90" y2="51.50" stroke="#151515" stroke-width="1.0" />
<line x1="402.80" y1="43.40" x2="402.80" y2="49.40" stroke="#151515" stroke-width="1.0" />
<line x1="400.30" y1="43.40" x2="405.30" y2="43.40" stroke="#151515" stroke-width="1.0" />
<line x1="400.30" y1="49.40" x2="405.30" y2="49.40" stroke="#151515" stroke-width="1.0" />
<circle cx="299.70" cy="30.80" r="2.10" fill="#151515"/>
<circle cx="334.10" cy="44.20" r="2.10" fill="#151515"/>
<circle cx="368.40" cy="46.40" r="2.10" fill="#151515"/>
<circle cx="402.80" cy="46.40" r="2.10" fill="#151515"/>
<circle cx="437.20" cy="46.40" r="2.10" fill="#151515"/>
<polyline points="299.70,26.10 334.10,27.70 368.40,25.80 402.80,39.00 437.20,46.40" fill="none" stroke="#151515" stroke-width="2.0" stroke-linejoin="round"/>
<line x1="334.10" y1="23.10" x2="334.10" y2="32.30" stroke="#151515" stroke-width="1.0" />
<line x1="331.60" y1="23.10" x2="336.60" y2="23.10" stroke="#151515" stroke-width="1.0" />
<line x1="331.60" y1="32.30" x2="336.60" y2="32.30" stroke="#151515" stroke-width="1.0" />
<circle cx="299.70" cy="26.10" r="1.95" fill="#fff" stroke="#151515" stroke-width="1.4"/>
<circle cx="334.10" cy="27.70" r="1.95" fill="#fff" stroke="#151515" stroke-width="1.4"/>
<circle cx="368.40" cy="25.80" r="1.95" fill="#fff" stroke="#151515" stroke-width="1.4"/>
<circle cx="402.80" cy="39.00" r="1.95" fill="#fff" stroke="#151515" stroke-width="1.4"/>
<circle cx="437.20" cy="46.40" r="1.95" fill="#fff" stroke="#151515" stroke-width="1.4"/>
<line x1="447.60" y1="22.20" x2="458.00" y2="22.20" stroke="#151515" stroke-width="2.0" />
<circle cx="452.80" cy="22.20" r="2.00" fill="#fff" stroke="#151515" stroke-width="1.4"/>
<text x="463.10" y="24.60" font-size="6.95" font-weight="normal" text-anchor="start" fill="#222" stroke="#222" stroke-width="0.18">NTD CD70 KO</text>
<line x1="447.60" y1="34.20" x2="458.00" y2="34.20" stroke="#151515" stroke-width="2.0" />
<circle cx="452.80" cy="34.20" r="2.30" fill="#151515"/>
<text x="463.10" y="36.60" font-size="6.95" font-weight="normal" text-anchor="start" fill="#222" stroke="#222" stroke-width="0.18">NTD</text>
<line x1="447.60" y1="45.90" x2="458.00" y2="45.90" stroke="#E0202C" stroke-width="2.0" />
<circle cx="452.80" cy="45.90" r="2.00" fill="#fff" stroke="#E0202C" stroke-width="1.4"/>
<text x="463.10" y="48.30" font-size="6.95" font-weight="normal" text-anchor="start" fill="#222" stroke="#222" stroke-width="0.18">CAR 23 CD70 KO</text>
<line x1="447.60" y1="57.30" x2="458.00" y2="57.30" stroke="#E0202C" stroke-width="2.0" />
<circle cx="452.80" cy="57.30" r="2.30" fill="#E0202C"/>
<text x="463.10" y="59.70" font-size="6.95" font-weight="normal" text-anchor="start" fill="#222" stroke="#222" stroke-width="0.18">CAR 23</text>
<line x1="447.60" y1="69.00" x2="458.00" y2="69.00" stroke="#17834A" stroke-width="2.0" />
<circle cx="452.80" cy="69.00" r="2.00" fill="#fff" stroke="#17834A" stroke-width="1.4"/>
<text x="463.10" y="71.40" font-size="6.95" font-weight="normal" text-anchor="start" fill="#222" stroke="#222" stroke-width="0.18">CAR 24 CD70 KO</text>
<line x1="447.60" y1="80.60" x2="458.00" y2="80.60" stroke="#17834A" stroke-width="2.0" />
<circle cx="452.80" cy="80.60" r="2.30" fill="#17834A"/>
<text x="463.10" y="83.00" font-size="6.95" font-weight="normal" text-anchor="start" fill="#222" stroke="#222" stroke-width="0.18">CAR 24</text>
<line x1="55.50" y1="177.20" x2="55.50" y2="290.50" stroke="#151515" stroke-width="1.5" />
<line x1="54.80" y1="289.80" x2="225.10" y2="289.80" stroke="#151515" stroke-width="1.5" />
<line x1="53.10" y1="289.80" x2="55.50" y2="289.80" stroke="#151515" stroke-width="1.1" />
<text x="51.00" y="292.40" font-size="7.7" font-weight="bold" text-anchor="end" fill="#222"  stroke="#222" stroke-width="0.28">0</text>
<line x1="53.10" y1="267.40" x2="55.50" y2="267.40" stroke="#151515" stroke-width="1.1" />
<text x="51.00" y="270.00" font-size="7.7" font-weight="bold" text-anchor="end" fill="#222"  stroke="#222" stroke-width="0.28">300</text>
<line x1="53.10" y1="245.00" x2="55.50" y2="245.00" stroke="#151515" stroke-width="1.1" />
<text x="51.00" y="247.60" font-size="7.7" font-weight="bold" text-anchor="end" fill="#222"  stroke="#222" stroke-width="0.28">600</text>
<line x1="53.10" y1="222.60" x2="55.50" y2="222.60" stroke="#151515" stroke-width="1.1" />
<text x="51.00" y="225.20" font-size="7.7" font-weight="bold" text-anchor="end" fill="#222"  stroke="#222" stroke-width="0.28">900</text>
<line x1="53.10" y1="200.20" x2="55.50" y2="200.20" stroke="#151515" stroke-width="1.1" />
<text x="51.00" y="202.80" font-size="7.7" font-weight="bold" text-anchor="end" fill="#222"  stroke="#222" stroke-width="0.28">1,200</text>
<line x1="53.10" y1="177.80" x2="55.50" y2="177.80" stroke="#151515" stroke-width="1.1" />
<text x="51.00" y="180.40" font-size="7.7" font-weight="bold" text-anchor="end" fill="#222"  stroke="#222" stroke-width="0.28">1,500</text>
<line x1="55.50" y1="289.80" x2="55.50" y2="292.20" stroke="#151515" stroke-width="1.1" />
<text x="55.50" y="299.60" font-size="7.1" font-weight="bold" text-anchor="middle" fill="#222"  stroke="#222" stroke-width="0.28">−5</text>
<line x1="79.60" y1="289.80" x2="79.60" y2="292.20" stroke="#151515" stroke-width="1.1" />
<text x="79.60" y="299.60" font-size="7.1" font-weight="bold" text-anchor="middle" fill="#222"  stroke="#222" stroke-width="0.28">0</text>
<line x1="103.70" y1="289.80" x2="103.70" y2="292.20" stroke="#151515" stroke-width="1.1" />
<text x="103.70" y="299.60" font-size="7.1" font-weight="bold" text-anchor="middle" fill="#222"  stroke="#222" stroke-width="0.28">5</text>
<line x1="127.80" y1="289.80" x2="127.80" y2="292.20" stroke="#151515" stroke-width="1.1" />
<text x="127.80" y="299.60" font-size="7.1" font-weight="bold" text-anchor="middle" fill="#222"  stroke="#222" stroke-width="0.28">10</text>
<line x1="151.90" y1="289.80" x2="151.90" y2="292.20" stroke="#151515" stroke-width="1.1" />
<text x="151.90" y="299.60" font-size="7.1" font-weight="bold" text-anchor="middle" fill="#222"  stroke="#222" stroke-width="0.28">15</text>
<line x1="176.00" y1="289.80" x2="176.00" y2="292.20" stroke="#151515" stroke-width="1.1" />
<text x="176.00" y="299.60" font-size="7.1" font-weight="bold" text-anchor="middle" fill="#222"  stroke="#222" stroke-width="0.28">20</text>
<line x1="200.10" y1="289.80" x2="200.10" y2="292.20" stroke="#151515" stroke-width="1.1" />
<text x="200.10" y="299.60" font-size="7.1" font-weight="bold" text-anchor="middle" fill="#222"  stroke="#222" stroke-width="0.28">25</text>
<line x1="224.20" y1="289.80" x2="224.20" y2="292.20" stroke="#151515" stroke-width="1.1" />
<text x="224.20" y="299.60" font-size="7.1" font-weight="bold" text-anchor="middle" fill="#222"  stroke="#222" stroke-width="0.28">30</text>
<text x="91.20" y="311.30" font-size="7.9" font-weight="bold" text-anchor="start" fill="#222"  stroke="#222" stroke-width="0.28" textLength="97.20" lengthAdjust="spacingAndGlyphs">Days post CAR treatment</text>
<text transform="translate(24.30,227.90) rotate(-90)" font-size="8.6" font-weight="bold" text-anchor="middle" fill="#222" textLength="92.80" lengthAdjust="spacingAndGlyphs" stroke="#222" stroke-width="0.28">Tumor volume (mm<tspan font-size="5.6" dy="-3.3">3</tspan><tspan dy="3.3">)</tspan></text>
<text x="141.60" y="184.00" font-size="9.7" font-weight="bold" text-anchor="start" fill="#111"  stroke="#111" stroke-width="0.28" textLength="28.80" lengthAdjust="spacingAndGlyphs">786-O</text>
<polyline points="79.60,273.80 94.06,270.40 113.34,262.40 127.80,272.00 147.08,278.00 161.54,281.50 180.82,281.20 195.28,280.80 219.38,281.80" fill="none" stroke="#9E1B26" stroke-width="1.7" stroke-linejoin="round"/>
<line x1="113.34" y1="260.90" x2="113.34" y2="263.90" stroke="#9E1B26" stroke-width="1.1" />
<line x1="111.34" y1="260.90" x2="115.34" y2="260.90" stroke="#9E1B26" stroke-width="1.1" />
<line x1="111.34" y1="263.90" x2="115.34" y2="263.90" stroke="#9E1B26" stroke-width="1.1" />
<line x1="127.80" y1="271.00" x2="127.80" y2="273.00" stroke="#9E1B26" stroke-width="1.1" />
<line x1="125.80" y1="271.00" x2="129.80" y2="271.00" stroke="#9E1B26" stroke-width="1.1" />
<line x1="125.80" y1="273.00" x2="129.80" y2="273.00" stroke="#9E1B26" stroke-width="1.1" />
<line x1="147.08" y1="277.00" x2="147.08" y2="279.00" stroke="#9E1B26" stroke-width="1.1" />
<line x1="145.08" y1="277.00" x2="149.08" y2="277.00" stroke="#9E1B26" stroke-width="1.1" />
<line x1="145.08" y1="279.00" x2="149.08" y2="279.00" stroke="#9E1B26" stroke-width="1.1" />
<line x1="161.54" y1="279.30" x2="161.54" y2="283.70" stroke="#9E1B26" stroke-width="1.1" />
<line x1="159.54" y1="279.30" x2="163.54" y2="279.30" stroke="#9E1B26" stroke-width="1.1" />
<line x1="159.54" y1="283.70" x2="163.54" y2="283.70" stroke="#9E1B26" stroke-width="1.1" />
<line x1="180.82" y1="280.00" x2="180.82" y2="282.40" stroke="#9E1B26" stroke-width="1.1" />
<line x1="178.82" y1="280.00" x2="182.82" y2="280.00" stroke="#9E1B26" stroke-width="1.1" />
<line x1="178.82" y1="282.40" x2="182.82" y2="282.40" stroke="#9E1B26" stroke-width="1.1" />
<line x1="195.28" y1="278.00" x2="195.28" y2="283.60" stroke="#9E1B26" stroke-width="1.1" />
<line x1="193.28" y1="278.00" x2="197.28" y2="278.00" stroke="#9E1B26" stroke-width="1.1" />
<line x1="193.28" y1="283.60" x2="197.28" y2="283.60" stroke="#9E1B26" stroke-width="1.1" />
<line x1="219.38" y1="278.20" x2="219.38" y2="285.40" stroke="#9E1B26" stroke-width="1.1" />
<line x1="217.38" y1="278.20" x2="221.38" y2="278.20" stroke="#9E1B26" stroke-width="1.1" />
<line x1="217.38" y1="285.40" x2="221.38" y2="285.40" stroke="#9E1B26" stroke-width="1.1" />
<polygon points="79.60,271.73 81.67,275.35 77.53,275.35" fill="#9E1B26"/>
<polygon points="94.06,268.33 96.13,271.95 91.99,271.95" fill="#9E1B26"/>
<polygon points="113.34,260.33 115.41,263.95 111.27,263.95" fill="#9E1B26"/>
<polygon points="127.80,269.93 129.87,273.55 125.73,273.55" fill="#9E1B26"/>
<polygon points="147.08,275.93 149.15,279.55 145.01,279.55" fill="#9E1B26"/>
<polygon points="161.54,279.43 163.61,283.05 159.47,283.05" fill="#9E1B26"/>
<polygon points="180.82,279.13 182.89,282.75 178.75,282.75" fill="#9E1B26"/>
<polygon points="195.28,278.73 197.35,282.35 193.21,282.35" fill="#9E1B26"/>
<polygon points="219.38,279.73 221.45,283.35 217.31,283.35" fill="#9E1B26"/>
<polyline points="79.60,273.80 94.06,270.40 113.34,258.00 127.80,265.50 147.08,263.20 161.54,265.60 180.82,259.00 195.28,252.00 219.38,239.10" fill="none" stroke="#E0202C" stroke-width="1.7" stroke-linejoin="round"/>
<line x1="113.34" y1="254.70" x2="113.34" y2="261.30" stroke="#E0202C" stroke-width="1.1" />
<line x1="111.34" y1="254.70" x2="115.34" y2="254.70" stroke="#E0202C" stroke-width="1.1" />
<line x1="111.34" y1="261.30" x2="115.34" y2="261.30" stroke="#E0202C" stroke-width="1.1" />
<line x1="127.80" y1="264.30" x2="127.80" y2="266.70" stroke="#E0202C" stroke-width="1.1" />
<line x1="125.80" y1="264.30" x2="129.80" y2="264.30" stroke="#E0202C" stroke-width="1.1" />
<line x1="125.80" y1="266.70" x2="129.80" y2="266.70" stroke="#E0202C" stroke-width="1.1" />
<line x1="147.08" y1="261.00" x2="147.08" y2="265.40" stroke="#E0202C" stroke-width="1.1" />
<line x1="145.08" y1="261.00" x2="149.08" y2="261.00" stroke="#E0202C" stroke-width="1.1" />
<line x1="145.08" y1="265.40" x2="149.08" y2="265.40" stroke="#E0202C" stroke-width="1.1" />
<line x1="161.54" y1="264.40" x2="161.54" y2="266.80" stroke="#E0202C" stroke-width="1.1" />
<line x1="159.54" y1="264.40" x2="163.54" y2="264.40" stroke="#E0202C" stroke-width="1.1" />
<line x1="159.54" y1="266.80" x2="163.54" y2="266.80" stroke="#E0202C" stroke-width="1.1" />
<line x1="180.82" y1="256.60" x2="180.82" y2="261.40" stroke="#E0202C" stroke-width="1.1" />
<line x1="178.82" y1="256.60" x2="182.82" y2="256.60" stroke="#E0202C" stroke-width="1.1" />
<line x1="178.82" y1="261.40" x2="182.82" y2="261.40" stroke="#E0202C" stroke-width="1.1" />
<line x1="195.28" y1="249.60" x2="195.28" y2="254.40" stroke="#E0202C" stroke-width="1.1" />
<line x1="193.28" y1="249.60" x2="197.28" y2="249.60" stroke="#E0202C" stroke-width="1.1" />
<line x1="193.28" y1="254.40" x2="197.28" y2="254.40" stroke="#E0202C" stroke-width="1.1" />
<line x1="219.38" y1="235.40" x2="219.38" y2="242.80" stroke="#E0202C" stroke-width="1.1" />
<line x1="217.38" y1="235.40" x2="221.38" y2="235.40" stroke="#E0202C" stroke-width="1.1" />
<line x1="217.38" y1="242.80" x2="221.38" y2="242.80" stroke="#E0202C" stroke-width="1.1" />
<polygon points="79.60,271.73 81.67,275.35 77.53,275.35" fill="#E0202C"/>
<polygon points="94.06,268.33 96.13,271.95 91.99,271.95" fill="#E0202C"/>
<polygon points="113.34,255.93 115.41,259.55 111.27,259.55" fill="#E0202C"/>
<polygon points="127.80,263.43 129.87,267.05 125.73,267.05" fill="#E0202C"/>
<polygon points="147.08,261.13 149.15,264.75 145.01,264.75" fill="#E0202C"/>
<polygon points="161.54,263.53 163.61,267.15 159.47,267.15" fill="#E0202C"/>
<polygon points="180.82,256.93 182.89,260.55 178.75,260.55" fill="#E0202C"/>
<polygon points="195.28,249.93 197.35,253.55 193.21,253.55" fill="#E0202C"/>
<polygon points="219.38,237.03 221.45,240.65 217.31,240.65" fill="#E0202C"/>
<polyline points="79.60,273.80 94.06,267.60 113.34,250.80 127.80,252.20 147.08,241.40 161.54,235.60 180.82,225.80 195.28,211.70 219.38,198.80" fill="none" stroke="#151515" stroke-width="1.7" stroke-linejoin="round"/>
<line x1="113.34" y1="249.00" x2="113.34" y2="252.60" stroke="#151515" stroke-width="1.1" />
<line x1="111.34" y1="249.00" x2="115.34" y2="249.00" stroke="#151515" stroke-width="1.1" />
<line x1="111.34" y1="252.60" x2="115.34" y2="252.60" stroke="#151515" stroke-width="1.1" />
<line x1="127.80" y1="251.00" x2="127.80" y2="253.40" stroke="#151515" stroke-width="1.1" />
<line x1="125.80" y1="251.00" x2="129.80" y2="251.00" stroke="#151515" stroke-width="1.1" />
<line x1="125.80" y1="253.40" x2="129.80" y2="253.40" stroke="#151515" stroke-width="1.1" />
<line x1="147.08" y1="238.40" x2="147.08" y2="244.40" stroke="#151515" stroke-width="1.1" />
<line x1="145.08" y1="238.40" x2="149.08" y2="238.40" stroke="#151515" stroke-width="1.1" />
<line x1="145.08" y1="244.40" x2="149.08" y2="244.40" stroke="#151515" stroke-width="1.1" />
<line x1="161.54" y1="232.00" x2="161.54" y2="239.20" stroke="#151515" stroke-width="1.1" />
<line x1="159.54" y1="232.00" x2="163.54" y2="232.00" stroke="#151515" stroke-width="1.1" />
<line x1="159.54" y1="239.20" x2="163.54" y2="239.20" stroke="#151515" stroke-width="1.1" />
<line x1="180.82" y1="219.20" x2="180.82" y2="232.40" stroke="#151515" stroke-width="1.1" />
<line x1="178.82" y1="219.20" x2="182.82" y2="219.20" stroke="#151515" stroke-width="1.1" />
<line x1="178.82" y1="232.40" x2="182.82" y2="232.40" stroke="#151515" stroke-width="1.1" />
<line x1="195.28" y1="204.10" x2="195.28" y2="219.30" stroke="#151515" stroke-width="1.1" />
<line x1="193.28" y1="204.10" x2="197.28" y2="204.10" stroke="#151515" stroke-width="1.1" />
<line x1="193.28" y1="219.30" x2="197.28" y2="219.30" stroke="#151515" stroke-width="1.1" />
<line x1="219.38" y1="188.80" x2="219.38" y2="208.80" stroke="#151515" stroke-width="1.1" />
<line x1="217.38" y1="188.80" x2="221.38" y2="188.80" stroke="#151515" stroke-width="1.1" />
<line x1="217.38" y1="208.80" x2="221.38" y2="208.80" stroke="#151515" stroke-width="1.1" />
<rect x="77.89" y="272.09" width="3.42" height="3.42" fill="#151515"/>
<rect x="92.35" y="265.89" width="3.42" height="3.42" fill="#151515"/>
<rect x="111.63" y="249.09" width="3.42" height="3.42" fill="#151515"/>
<rect x="126.09" y="250.49" width="3.42" height="3.42" fill="#151515"/>
<rect x="145.37" y="239.69" width="3.42" height="3.42" fill="#151515"/>
<rect x="159.83" y="233.89" width="3.42" height="3.42" fill="#151515"/>
<rect x="179.11" y="224.09" width="3.42" height="3.42" fill="#151515"/>
<rect x="193.57" y="209.99" width="3.42" height="3.42" fill="#151515"/>
<rect x="217.67" y="197.09" width="3.42" height="3.42" fill="#151515"/>
<polyline points="79.60,273.80 94.06,269.20 113.34,250.00 127.80,250.40 147.08,246.30 161.54,246.20 180.82,234.20 195.28,220.40 219.38,201.60" fill="none" stroke="#EC8A92" stroke-width="1.7" stroke-linejoin="round"/>
<line x1="113.34" y1="248.80" x2="113.34" y2="251.20" stroke="#EC8A92" stroke-width="1.1" />
<line x1="111.34" y1="248.80" x2="115.34" y2="248.80" stroke="#EC8A92" stroke-width="1.1" />
<line x1="111.34" y1="251.20" x2="115.34" y2="251.20" stroke="#EC8A92" stroke-width="1.1" />
<line x1="127.80" y1="249.20" x2="127.80" y2="251.60" stroke="#EC8A92" stroke-width="1.1" />
<line x1="125.80" y1="249.20" x2="129.80" y2="249.20" stroke="#EC8A92" stroke-width="1.1" />
<line x1="125.80" y1="251.60" x2="129.80" y2="251.60" stroke="#EC8A92" stroke-width="1.1" />
<line x1="147.08" y1="244.30" x2="147.08" y2="248.30" stroke="#EC8A92" stroke-width="1.1" />
<line x1="145.08" y1="244.30" x2="149.08" y2="244.30" stroke="#EC8A92" stroke-width="1.1" />
<line x1="145.08" y1="248.30" x2="149.08" y2="248.30" stroke="#EC8A92" stroke-width="1.1" />
<line x1="161.54" y1="243.60" x2="161.54" y2="248.80" stroke="#EC8A92" stroke-width="1.1" />
<line x1="159.54" y1="243.60" x2="163.54" y2="243.60" stroke="#EC8A92" stroke-width="1.1" />
<line x1="159.54" y1="248.80" x2="163.54" y2="248.80" stroke="#EC8A92" stroke-width="1.1" />
<line x1="180.82" y1="231.60" x2="180.82" y2="236.80" stroke="#EC8A92" stroke-width="1.1" />
<line x1="178.82" y1="231.60" x2="182.82" y2="231.60" stroke="#EC8A92" stroke-width="1.1" />
<line x1="178.82" y1="236.80" x2="182.82" y2="236.80" stroke="#EC8A92" stroke-width="1.1" />
<line x1="195.28" y1="215.80" x2="195.28" y2="225.00" stroke="#EC8A92" stroke-width="1.1" />
<line x1="193.28" y1="215.80" x2="197.28" y2="215.80" stroke="#EC8A92" stroke-width="1.1" />
<line x1="193.28" y1="225.00" x2="197.28" y2="225.00" stroke="#EC8A92" stroke-width="1.1" />
<line x1="219.38" y1="196.40" x2="219.38" y2="206.80" stroke="#EC8A92" stroke-width="1.1" />
<line x1="217.38" y1="196.40" x2="221.38" y2="196.40" stroke="#EC8A92" stroke-width="1.1" />
<line x1="217.38" y1="206.80" x2="221.38" y2="206.80" stroke="#EC8A92" stroke-width="1.1" />
<polygon points="79.60,271.73 81.67,275.35 77.53,275.35" fill="#EC8A92"/>
<polygon points="94.06,267.13 96.13,270.75 91.99,270.75" fill="#EC8A92"/>
<polygon points="113.34,247.93 115.41,251.55 111.27,251.55" fill="#EC8A92"/>
<polygon points="127.80,248.33 129.87,251.95 125.73,251.95" fill="#EC8A92"/>
<polygon points="147.08,244.23 149.15,247.85 145.01,247.85" fill="#EC8A92"/>
<polygon points="161.54,244.13 163.61,247.75 159.47,247.75" fill="#EC8A92"/>
<polygon points="180.82,232.13 182.89,235.75 178.75,235.75" fill="#EC8A92"/>
<polygon points="195.28,218.33 197.35,221.95 193.21,221.95" fill="#EC8A92"/>
<polygon points="219.38,199.53 221.45,203.15 217.31,203.15" fill="#EC8A92"/>
<line x1="70.30" y1="198.00" x2="79.60" y2="198.00" stroke="#EC8A92" stroke-width="2.0" />
<polygon points="74.95,195.47 77.48,199.90 72.42,199.90" fill="#EC8A92"/>
<text x="84.6" y="200.50" font-size="7.2" fill="#333">CAR 23, 1 × 10<tspan font-size="4.6" dy="-3.0">6</tspan></text>
<line x1="70.30" y1="209.70" x2="79.60" y2="209.70" stroke="#E0202C" stroke-width="2.0" />
<polygon points="74.95,207.17 77.48,211.60 72.42,211.60" fill="#E0202C"/>
<text x="84.6" y="212.20" font-size="7.2" fill="#333">CAR 23, 3 × 10<tspan font-size="4.6" dy="-3.0">6</tspan></text>
<line x1="70.30" y1="220.70" x2="79.60" y2="220.70" stroke="#9E1B26" stroke-width="2.0" />
<polygon points="74.95,218.17 77.48,222.60 72.42,222.60" fill="#9E1B26"/>
<text x="84.6" y="223.20" font-size="7.2" fill="#333">CAR 23, 5 × 10<tspan font-size="4.6" dy="-3.0">6</tspan></text>
<line x1="70.30" y1="232.40" x2="79.60" y2="232.40" stroke="#151515" stroke-width="2.0" />
<rect x="72.86" y="230.31" width="4.18" height="4.18" fill="#151515"/>
<text x="84.60" y="234.90" font-size="7.2" font-weight="normal" text-anchor="start" fill="#333"  stroke="#333" stroke-width="0.08">NTD</text>
<text x="225.50" y="245.80" font-size="9.5" font-weight="bold" text-anchor="start" fill="#111"  stroke="#111" stroke-width="0.28">**</text>
<text x="226.30" y="288.60" font-size="9.5" font-weight="bold" text-anchor="start" fill="#111"  stroke="#111" stroke-width="0.28">****</text>
<line x1="317.30" y1="175.40" x2="317.30" y2="288.90" stroke="#151515" stroke-width="1.5" />
<line x1="316.60" y1="288.20" x2="486.40" y2="288.20" stroke="#151515" stroke-width="1.5" />
<line x1="314.90" y1="288.20" x2="317.30" y2="288.20" stroke="#151515" stroke-width="1.1" />
<text x="310.50" y="290.70" font-size="7.6" font-weight="bold" text-anchor="end" fill="#222">10</text>
<text x="311.00" y="288.10" font-size="5.0" font-weight="normal" text-anchor="start" fill="#222" stroke="#222" stroke-width="0.15">5</text>
<line x1="314.90" y1="260.10" x2="317.30" y2="260.10" stroke="#151515" stroke-width="1.1" />
<text x="310.50" y="262.60" font-size="7.6" font-weight="bold" text-anchor="end" fill="#222">10</text>
<text x="311.00" y="260.00" font-size="5.0" font-weight="normal" text-anchor="start" fill="#222" stroke="#222" stroke-width="0.15">6</text>
<line x1="314.90" y1="232.00" x2="317.30" y2="232.00" stroke="#151515" stroke-width="1.1" />
<text x="310.50" y="234.50" font-size="7.6" font-weight="bold" text-anchor="end" fill="#222">10</text>
<text x="311.00" y="231.90" font-size="5.0" font-weight="normal" text-anchor="start" fill="#222" stroke="#222" stroke-width="0.15">7</text>
<line x1="314.90" y1="203.90" x2="317.30" y2="203.90" stroke="#151515" stroke-width="1.1" />
<text x="310.50" y="206.40" font-size="7.6" font-weight="bold" text-anchor="end" fill="#222">10</text>
<text x="311.00" y="203.80" font-size="5.0" font-weight="normal" text-anchor="start" fill="#222" stroke="#222" stroke-width="0.15">8</text>
<line x1="314.90" y1="175.80" x2="317.30" y2="175.80" stroke="#151515" stroke-width="1.1" />
<text x="310.50" y="178.30" font-size="7.6" font-weight="bold" text-anchor="end" fill="#222">10</text>
<text x="311.00" y="175.70" font-size="5.0" font-weight="normal" text-anchor="start" fill="#222" stroke="#222" stroke-width="0.15">9</text>
<line x1="316.40" y1="288.20" x2="316.40" y2="290.60" stroke="#151515" stroke-width="1.1" />
<text x="316.40" y="299.00" font-size="7.1" font-weight="bold" text-anchor="middle" fill="#222"  stroke="#222" stroke-width="0.28">−15</text>
<line x1="337.57" y1="288.20" x2="337.57" y2="290.60" stroke="#151515" stroke-width="1.1" />
<text x="337.57" y="299.00" font-size="7.1" font-weight="bold" text-anchor="middle" fill="#222"  stroke="#222" stroke-width="0.28">−10</text>
<line x1="358.74" y1="288.20" x2="358.74" y2="290.60" stroke="#151515" stroke-width="1.1" />
<text x="358.74" y="299.00" font-size="7.1" font-weight="bold" text-anchor="middle" fill="#222"  stroke="#222" stroke-width="0.28">−5</text>
<line x1="379.91" y1="288.20" x2="379.91" y2="290.60" stroke="#151515" stroke-width="1.1" />
<text x="379.91" y="299.00" font-size="7.1" font-weight="bold" text-anchor="middle" fill="#222"  stroke="#222" stroke-width="0.28">0</text>
<line x1="401.08" y1="288.20" x2="401.08" y2="290.60" stroke="#151515" stroke-width="1.1" />
<text x="401.08" y="299.00" font-size="7.1" font-weight="bold" text-anchor="middle" fill="#222"  stroke="#222" stroke-width="0.28">5</text>
<line x1="422.25" y1="288.20" x2="422.25" y2="290.60" stroke="#151515" stroke-width="1.1" />
<text x="422.25" y="299.00" font-size="7.1" font-weight="bold" text-anchor="middle" fill="#222"  stroke="#222" stroke-width="0.28">10</text>
<line x1="443.42" y1="288.20" x2="443.42" y2="290.60" stroke="#151515" stroke-width="1.1" />
<text x="443.42" y="299.00" font-size="7.1" font-weight="bold" text-anchor="middle" fill="#222"  stroke="#222" stroke-width="0.28">15</text>
<line x1="464.59" y1="288.20" x2="464.59" y2="290.60" stroke="#151515" stroke-width="1.1" />
<text x="464.59" y="299.00" font-size="7.1" font-weight="bold" text-anchor="middle" fill="#222"  stroke="#222" stroke-width="0.28">20</text>
<line x1="485.76" y1="288.20" x2="485.76" y2="290.60" stroke="#151515" stroke-width="1.1" />
<text x="485.76" y="299.00" font-size="7.1" font-weight="bold" text-anchor="middle" fill="#222"  stroke="#222" stroke-width="0.28">25</text>
<text x="352.60" y="312.80" font-size="7.9" font-weight="bold" text-anchor="start" fill="#222"  stroke="#222" stroke-width="0.28" textLength="97.60" lengthAdjust="spacingAndGlyphs">Days post CAR treatment</text>
<text transform="translate(297.30,229.45) rotate(-90)" font-size="8.3" font-weight="bold" text-anchor="middle" fill="#222" textLength="64.40" lengthAdjust="spacingAndGlyphs" stroke="#222" stroke-width="0.28">Total flux [p/s]</text>
<line x1="319.7" y1="273.85" x2="480.5" y2="273.85" stroke="#111" stroke-width="1.5" stroke-dasharray="1.2,2.3"/>
<text x="402.20" y="178.20" font-size="9.4" font-weight="bold" text-anchor="start" fill="#111"  stroke="#111" stroke-width="0.28" textLength="30.20" lengthAdjust="spacingAndGlyphs">ACHN</text>
<polyline points="333.34,242.30 375.68,231.50 392.61,218.60 409.55,206.30 422.25,204.00 439.19,203.40 451.89,192.20 468.82,201.00 481.53,188.90" fill="none" stroke="#151515" stroke-width="1.7" stroke-linejoin="round"/>
<line x1="333.34" y1="237.00" x2="333.34" y2="247.60" stroke="#151515" stroke-width="1.1" />
<line x1="331.34" y1="237.00" x2="335.34" y2="237.00" stroke="#151515" stroke-width="1.1" />
<line x1="331.34" y1="247.60" x2="335.34" y2="247.60" stroke="#151515" stroke-width="1.1" />
<line x1="375.68" y1="225.00" x2="375.68" y2="238.00" stroke="#151515" stroke-width="1.1" />
<line x1="373.68" y1="225.00" x2="377.68" y2="225.00" stroke="#151515" stroke-width="1.1" />
<line x1="373.68" y1="238.00" x2="377.68" y2="238.00" stroke="#151515" stroke-width="1.1" />
<line x1="392.61" y1="217.00" x2="392.61" y2="220.20" stroke="#151515" stroke-width="1.1" />
<line x1="390.61" y1="217.00" x2="394.61" y2="217.00" stroke="#151515" stroke-width="1.1" />
<line x1="390.61" y1="220.20" x2="394.61" y2="220.20" stroke="#151515" stroke-width="1.1" />
<line x1="409.55" y1="204.30" x2="409.55" y2="208.30" stroke="#151515" stroke-width="1.1" />
<line x1="407.55" y1="204.30" x2="411.55" y2="204.30" stroke="#151515" stroke-width="1.1" />
<line x1="407.55" y1="208.30" x2="411.55" y2="208.30" stroke="#151515" stroke-width="1.1" />
<line x1="422.25" y1="201.00" x2="422.25" y2="207.00" stroke="#151515" stroke-width="1.1" />
<line x1="420.25" y1="201.00" x2="424.25" y2="201.00" stroke="#151515" stroke-width="1.1" />
<line x1="420.25" y1="207.00" x2="424.25" y2="207.00" stroke="#151515" stroke-width="1.1" />
<line x1="439.19" y1="196.40" x2="439.19" y2="210.40" stroke="#151515" stroke-width="1.1" />
<line x1="437.19" y1="196.40" x2="441.19" y2="196.40" stroke="#151515" stroke-width="1.1" />
<line x1="437.19" y1="210.40" x2="441.19" y2="210.40" stroke="#151515" stroke-width="1.1" />
<line x1="451.89" y1="189.40" x2="451.89" y2="195.00" stroke="#151515" stroke-width="1.1" />
<line x1="449.89" y1="189.40" x2="453.89" y2="189.40" stroke="#151515" stroke-width="1.1" />
<line x1="449.89" y1="195.00" x2="453.89" y2="195.00" stroke="#151515" stroke-width="1.1" />
<line x1="468.82" y1="196.40" x2="468.82" y2="205.60" stroke="#151515" stroke-width="1.1" />
<line x1="466.82" y1="196.40" x2="470.82" y2="196.40" stroke="#151515" stroke-width="1.1" />
<line x1="466.82" y1="205.60" x2="470.82" y2="205.60" stroke="#151515" stroke-width="1.1" />
<line x1="481.53" y1="186.30" x2="481.53" y2="191.50" stroke="#151515" stroke-width="1.1" />
<line x1="479.53" y1="186.30" x2="483.53" y2="186.30" stroke="#151515" stroke-width="1.1" />
<line x1="479.53" y1="191.50" x2="483.53" y2="191.50" stroke="#151515" stroke-width="1.1" />
<rect x="331.63" y="240.59" width="3.42" height="3.42" fill="#151515"/>
<rect x="373.97" y="229.79" width="3.42" height="3.42" fill="#151515"/>
<rect x="390.90" y="216.89" width="3.42" height="3.42" fill="#151515"/>
<rect x="407.84" y="204.59" width="3.42" height="3.42" fill="#151515"/>
<rect x="420.54" y="202.29" width="3.42" height="3.42" fill="#151515"/>
<rect x="437.48" y="201.69" width="3.42" height="3.42" fill="#151515"/>
<rect x="450.18" y="190.49" width="3.42" height="3.42" fill="#151515"/>
<rect x="467.11" y="199.29" width="3.42" height="3.42" fill="#151515"/>
<rect x="479.82" y="187.19" width="3.42" height="3.42" fill="#151515"/>
<polyline points="333.34,237.50 375.68,228.00 392.61,221.00 409.55,212.30 422.25,210.80 439.19,207.90 451.89,204.90 468.82,198.10 481.53,195.20" fill="none" stroke="#EC8A92" stroke-width="1.7" stroke-linejoin="round"/>
<line x1="333.34" y1="235.50" x2="333.34" y2="239.50" stroke="#EC8A92" stroke-width="1.1" />
<line x1="331.34" y1="235.50" x2="335.34" y2="235.50" stroke="#EC8A92" stroke-width="1.1" />
<line x1="331.34" y1="239.50" x2="335.34" y2="239.50" stroke="#EC8A92" stroke-width="1.1" />
<line x1="375.68" y1="226.00" x2="375.68" y2="230.00" stroke="#EC8A92" stroke-width="1.1" />
<line x1="373.68" y1="226.00" x2="377.68" y2="226.00" stroke="#EC8A92" stroke-width="1.1" />
<line x1="373.68" y1="230.00" x2="377.68" y2="230.00" stroke="#EC8A92" stroke-width="1.1" />
<line x1="409.55" y1="208.30" x2="409.55" y2="216.30" stroke="#EC8A92" stroke-width="1.1" />
<line x1="407.55" y1="208.30" x2="411.55" y2="208.30" stroke="#EC8A92" stroke-width="1.1" />
<line x1="407.55" y1="216.30" x2="411.55" y2="216.30" stroke="#EC8A92" stroke-width="1.1" />
<line x1="422.25" y1="205.80" x2="422.25" y2="215.80" stroke="#EC8A92" stroke-width="1.1" />
<line x1="420.25" y1="205.80" x2="424.25" y2="205.80" stroke="#EC8A92" stroke-width="1.1" />
<line x1="420.25" y1="215.80" x2="424.25" y2="215.80" stroke="#EC8A92" stroke-width="1.1" />
<line x1="439.19" y1="203.90" x2="439.19" y2="211.90" stroke="#EC8A92" stroke-width="1.1" />
<line x1="437.19" y1="203.90" x2="441.19" y2="203.90" stroke="#EC8A92" stroke-width="1.1" />
<line x1="437.19" y1="211.90" x2="441.19" y2="211.90" stroke="#EC8A92" stroke-width="1.1" />
<line x1="451.89" y1="201.30" x2="451.89" y2="208.50" stroke="#EC8A92" stroke-width="1.1" />
<line x1="449.89" y1="201.30" x2="453.89" y2="201.30" stroke="#EC8A92" stroke-width="1.1" />
<line x1="449.89" y1="208.50" x2="453.89" y2="208.50" stroke="#EC8A92" stroke-width="1.1" />
<line x1="468.82" y1="194.50" x2="468.82" y2="201.70" stroke="#EC8A92" stroke-width="1.1" />
<line x1="466.82" y1="194.50" x2="470.82" y2="194.50" stroke="#EC8A92" stroke-width="1.1" />
<line x1="466.82" y1="201.70" x2="470.82" y2="201.70" stroke="#EC8A92" stroke-width="1.1" />
<line x1="481.53" y1="192.00" x2="481.53" y2="198.40" stroke="#EC8A92" stroke-width="1.1" />
<line x1="479.53" y1="192.00" x2="483.53" y2="192.00" stroke="#EC8A92" stroke-width="1.1" />
<line x1="479.53" y1="198.40" x2="483.53" y2="198.40" stroke="#EC8A92" stroke-width="1.1" />
<polygon points="333.34,235.43 335.41,239.05 331.27,239.05" fill="#EC8A92"/>
<polygon points="375.68,225.93 377.75,229.55 373.61,229.55" fill="#EC8A92"/>
<polygon points="392.61,218.93 394.68,222.55 390.54,222.55" fill="#EC8A92"/>
<polygon points="409.55,210.23 411.62,213.85 407.48,213.85" fill="#EC8A92"/>
<polygon points="422.25,208.73 424.32,212.35 420.18,212.35" fill="#EC8A92"/>
<polygon points="439.19,205.83 441.26,209.45 437.12,209.45" fill="#EC8A92"/>
<polygon points="451.89,202.83 453.96,206.45 449.82,206.45" fill="#EC8A92"/>
<polygon points="468.82,196.03 470.89,199.65 466.75,199.65" fill="#EC8A92"/>
<polygon points="481.53,193.13 483.60,196.75 479.46,196.75" fill="#EC8A92"/>
<polyline points="333.34,238.80 375.68,228.80 392.61,222.40 409.55,235.00 422.25,249.50 439.19,248.60 451.89,250.40 468.82,249.40 481.53,250.40" fill="none" stroke="#9E1B26" stroke-width="1.7" stroke-linejoin="round"/>
<line x1="333.34" y1="234.30" x2="333.34" y2="243.30" stroke="#9E1B26" stroke-width="1.1" />
<line x1="331.34" y1="234.30" x2="335.34" y2="234.30" stroke="#9E1B26" stroke-width="1.1" />
<line x1="331.34" y1="243.30" x2="335.34" y2="243.30" stroke="#9E1B26" stroke-width="1.1" />
<line x1="375.68" y1="225.00" x2="375.68" y2="232.60" stroke="#9E1B26" stroke-width="1.1" />
<line x1="373.68" y1="225.00" x2="377.68" y2="225.00" stroke="#9E1B26" stroke-width="1.1" />
<line x1="373.68" y1="232.60" x2="377.68" y2="232.60" stroke="#9E1B26" stroke-width="1.1" />
<line x1="392.61" y1="220.40" x2="392.61" y2="224.40" stroke="#9E1B26" stroke-width="1.1" />
<line x1="390.61" y1="220.40" x2="394.61" y2="220.40" stroke="#9E1B26" stroke-width="1.1" />
<line x1="390.61" y1="224.40" x2="394.61" y2="224.40" stroke="#9E1B26" stroke-width="1.1" />
<line x1="409.55" y1="233.00" x2="409.55" y2="237.00" stroke="#9E1B26" stroke-width="1.1" />
<line x1="407.55" y1="233.00" x2="411.55" y2="233.00" stroke="#9E1B26" stroke-width="1.1" />
<line x1="407.55" y1="237.00" x2="411.55" y2="237.00" stroke="#9E1B26" stroke-width="1.1" />
<line x1="422.25" y1="245.00" x2="422.25" y2="254.00" stroke="#9E1B26" stroke-width="1.1" />
<line x1="420.25" y1="245.00" x2="424.25" y2="245.00" stroke="#9E1B26" stroke-width="1.1" />
<line x1="420.25" y1="254.00" x2="424.25" y2="254.00" stroke="#9E1B26" stroke-width="1.1" />
<line x1="439.19" y1="247.60" x2="439.19" y2="249.60" stroke="#9E1B26" stroke-width="1.1" />
<line x1="437.19" y1="247.60" x2="441.19" y2="247.60" stroke="#9E1B26" stroke-width="1.1" />
<line x1="437.19" y1="249.60" x2="441.19" y2="249.60" stroke="#9E1B26" stroke-width="1.1" />
<line x1="451.89" y1="249.60" x2="451.89" y2="251.20" stroke="#9E1B26" stroke-width="1.1" />
<line x1="449.89" y1="249.60" x2="453.89" y2="249.60" stroke="#9E1B26" stroke-width="1.1" />
<line x1="449.89" y1="251.20" x2="453.89" y2="251.20" stroke="#9E1B26" stroke-width="1.1" />
<line x1="468.82" y1="248.40" x2="468.82" y2="250.40" stroke="#9E1B26" stroke-width="1.1" />
<line x1="466.82" y1="248.40" x2="470.82" y2="248.40" stroke="#9E1B26" stroke-width="1.1" />
<line x1="466.82" y1="250.40" x2="470.82" y2="250.40" stroke="#9E1B26" stroke-width="1.1" />
<line x1="481.53" y1="249.60" x2="481.53" y2="251.20" stroke="#9E1B26" stroke-width="1.1" />
<line x1="479.53" y1="249.60" x2="483.53" y2="249.60" stroke="#9E1B26" stroke-width="1.1" />
<line x1="479.53" y1="251.20" x2="483.53" y2="251.20" stroke="#9E1B26" stroke-width="1.1" />
<polygon points="333.34,240.87 335.41,237.25 331.27,237.25" fill="#9E1B26"/>
<polygon points="375.68,230.87 377.75,227.25 373.61,227.25" fill="#9E1B26"/>
<polygon points="392.61,224.47 394.68,220.85 390.54,220.85" fill="#9E1B26"/>
<polygon points="409.55,237.07 411.62,233.45 407.48,233.45" fill="#9E1B26"/>
<polygon points="422.25,251.57 424.32,247.95 420.18,247.95" fill="#9E1B26"/>
<polygon points="439.19,250.67 441.26,247.05 437.12,247.05" fill="#9E1B26"/>
<polygon points="451.89,252.47 453.96,248.85 449.82,248.85" fill="#9E1B26"/>
<polygon points="468.82,251.47 470.89,247.85 466.75,247.85" fill="#9E1B26"/>
<polygon points="481.53,252.47 483.60,248.85 479.46,248.85" fill="#9E1B26"/>
<polyline points="333.34,238.00 375.68,228.30 392.61,223.20 409.55,228.75 422.25,234.80 439.19,241.20 451.89,233.30 468.82,231.20 481.53,228.80" fill="none" stroke="#E0202C" stroke-width="1.7" stroke-linejoin="round"/>
<line x1="333.34" y1="233.50" x2="333.34" y2="242.50" stroke="#E0202C" stroke-width="1.1" />
<line x1="331.34" y1="233.50" x2="335.34" y2="233.50" stroke="#E0202C" stroke-width="1.1" />
<line x1="331.34" y1="242.50" x2="335.34" y2="242.50" stroke="#E0202C" stroke-width="1.1" />
<line x1="375.68" y1="224.50" x2="375.68" y2="232.10" stroke="#E0202C" stroke-width="1.1" />
<line x1="373.68" y1="224.50" x2="377.68" y2="224.50" stroke="#E0202C" stroke-width="1.1" />
<line x1="373.68" y1="232.10" x2="377.68" y2="232.10" stroke="#E0202C" stroke-width="1.1" />
<line x1="392.61" y1="221.20" x2="392.61" y2="225.20" stroke="#E0202C" stroke-width="1.1" />
<line x1="390.61" y1="221.20" x2="394.61" y2="221.20" stroke="#E0202C" stroke-width="1.1" />
<line x1="390.61" y1="225.20" x2="394.61" y2="225.20" stroke="#E0202C" stroke-width="1.1" />
<line x1="409.55" y1="226.35" x2="409.55" y2="231.15" stroke="#E0202C" stroke-width="1.1" />
<line x1="407.55" y1="226.35" x2="411.55" y2="226.35" stroke="#E0202C" stroke-width="1.1" />
<line x1="407.55" y1="231.15" x2="411.55" y2="231.15" stroke="#E0202C" stroke-width="1.1" />
<line x1="422.25" y1="232.60" x2="422.25" y2="237.00" stroke="#E0202C" stroke-width="1.1" />
<line x1="420.25" y1="232.60" x2="424.25" y2="232.60" stroke="#E0202C" stroke-width="1.1" />
<line x1="420.25" y1="237.00" x2="424.25" y2="237.00" stroke="#E0202C" stroke-width="1.1" />
<line x1="439.19" y1="239.20" x2="439.19" y2="243.20" stroke="#E0202C" stroke-width="1.1" />
<line x1="437.19" y1="239.20" x2="441.19" y2="239.20" stroke="#E0202C" stroke-width="1.1" />
<line x1="437.19" y1="243.20" x2="441.19" y2="243.20" stroke="#E0202C" stroke-width="1.1" />
<line x1="451.89" y1="229.30" x2="451.89" y2="237.30" stroke="#E0202C" stroke-width="1.1" />
<line x1="449.89" y1="229.30" x2="453.89" y2="229.30" stroke="#E0202C" stroke-width="1.1" />
<line x1="449.89" y1="237.30" x2="453.89" y2="237.30" stroke="#E0202C" stroke-width="1.1" />
<line x1="468.82" y1="225.20" x2="468.82" y2="237.20" stroke="#E0202C" stroke-width="1.1" />
<line x1="466.82" y1="225.20" x2="470.82" y2="225.20" stroke="#E0202C" stroke-width="1.1" />
<line x1="466.82" y1="237.20" x2="470.82" y2="237.20" stroke="#E0202C" stroke-width="1.1" />
<line x1="481.53" y1="223.40" x2="481.53" y2="234.20" stroke="#E0202C" stroke-width="1.1" />
<line x1="479.53" y1="223.40" x2="483.53" y2="223.40" stroke="#E0202C" stroke-width="1.1" />
<line x1="479.53" y1="234.20" x2="483.53" y2="234.20" stroke="#E0202C" stroke-width="1.1" />
<polygon points="333.34,240.07 335.41,236.45 331.27,236.45" fill="#E0202C"/>
<polygon points="375.68,230.37 377.75,226.75 373.61,226.75" fill="#E0202C"/>
<polygon points="392.61,225.27 394.68,221.65 390.54,221.65" fill="#E0202C"/>
<polygon points="409.55,230.82 411.62,227.20 407.48,227.20" fill="#E0202C"/>
<polygon points="422.25,236.87 424.32,233.25 420.18,233.25" fill="#E0202C"/>
<polygon points="439.19,243.27 441.26,239.65 437.12,239.65" fill="#E0202C"/>
<polygon points="451.89,235.37 453.96,231.75 449.82,231.75" fill="#E0202C"/>
<polygon points="468.82,233.27 470.89,229.65 466.75,229.65" fill="#E0202C"/>
<polygon points="481.53,230.87 483.60,227.25 479.46,227.25" fill="#E0202C"/>
<line x1="323.90" y1="180.60" x2="333.10" y2="180.60" stroke="#EC8A92" stroke-width="2.0" />
<polygon points="328.50,178.07 331.03,182.50 325.97,182.50" fill="#EC8A92"/>
<text x="338.3" y="183.10" font-size="7.2" fill="#333">CAR 23, 1 × 10<tspan font-size="4.6" dy="-3.0">6</tspan></text>
<line x1="323.90" y1="192.70" x2="333.10" y2="192.70" stroke="#E0202C" stroke-width="2.0" />
<polygon points="328.50,190.17 331.03,194.60 325.97,194.60" fill="#E0202C"/>
<text x="338.3" y="195.20" font-size="7.2" fill="#333">CAR 23, 3 × 10<tspan font-size="4.6" dy="-3.0">6</tspan></text>
<line x1="323.90" y1="204.20" x2="333.10" y2="204.20" stroke="#9E1B26" stroke-width="2.0" />
<polygon points="328.50,201.67 331.03,206.10 325.97,206.10" fill="#9E1B26"/>
<text x="338.3" y="206.70" font-size="7.2" fill="#333">CAR 23, 5 × 10<tspan font-size="4.6" dy="-3.0">6</tspan></text>
<line x1="323.90" y1="215.30" x2="333.10" y2="215.30" stroke="#151515" stroke-width="2.0" />
<rect x="326.41" y="213.21" width="4.18" height="4.18" fill="#151515"/>
<text x="338.30" y="217.80" font-size="7.2" font-weight="normal" text-anchor="start" fill="#333"  stroke="#333" stroke-width="0.08">NTD</text>
<text x="486.70" y="232.70" font-size="9.5" font-weight="bold" text-anchor="start" fill="#111"  stroke="#111" stroke-width="0.28">**</text>
<text x="487.10" y="255.40" font-size="9.5" font-weight="bold" text-anchor="start" fill="#111"  stroke="#111" stroke-width="0.28">**</text>
<line x1="48.65" y1="339.40" x2="48.65" y2="454.50" stroke="#151515" stroke-width="1.5" />
<line x1="47.95" y1="453.80" x2="222.60" y2="453.80" stroke="#151515" stroke-width="1.5" />
<line x1="46.25" y1="453.80" x2="48.65" y2="453.80" stroke="#151515" stroke-width="1.1" />
<text x="44.95" y="456.60" font-size="8.0" font-weight="bold" text-anchor="end" fill="#222"  stroke="#222" stroke-width="0.28">0</text>
<line x1="46.25" y1="425.20" x2="48.65" y2="425.20" stroke="#151515" stroke-width="1.1" />
<text x="44.95" y="428.00" font-size="8.0" font-weight="bold" text-anchor="end" fill="#222"  stroke="#222" stroke-width="0.28">300</text>
<line x1="46.25" y1="396.60" x2="48.65" y2="396.60" stroke="#151515" stroke-width="1.1" />
<text x="44.95" y="399.40" font-size="8.0" font-weight="bold" text-anchor="end" fill="#222"  stroke="#222" stroke-width="0.28">600</text>
<line x1="46.25" y1="368.00" x2="48.65" y2="368.00" stroke="#151515" stroke-width="1.1" />
<text x="44.95" y="370.80" font-size="8.0" font-weight="bold" text-anchor="end" fill="#222"  stroke="#222" stroke-width="0.28">900</text>
<line x1="46.25" y1="339.40" x2="48.65" y2="339.40" stroke="#151515" stroke-width="1.1" />
<text x="44.95" y="342.20" font-size="8.0" font-weight="bold" text-anchor="end" fill="#222"  stroke="#222" stroke-width="0.28">1,200</text>
<line x1="48.65" y1="453.80" x2="48.65" y2="456.20" stroke="#151515" stroke-width="1.1" />
<text x="48.65" y="464.50" font-size="7.1" font-weight="bold" text-anchor="middle" fill="#222"  stroke="#222" stroke-width="0.28">−5</text>
<line x1="67.90" y1="453.80" x2="67.90" y2="456.20" stroke="#151515" stroke-width="1.1" />
<text x="67.90" y="464.50" font-size="7.1" font-weight="bold" text-anchor="middle" fill="#222"  stroke="#222" stroke-width="0.28">0</text>
<line x1="87.15" y1="453.80" x2="87.15" y2="456.20" stroke="#151515" stroke-width="1.1" />
<text x="87.15" y="464.50" font-size="7.1" font-weight="bold" text-anchor="middle" fill="#222"  stroke="#222" stroke-width="0.28">5</text>
<line x1="106.40" y1="453.80" x2="106.40" y2="456.20" stroke="#151515" stroke-width="1.1" />
<text x="106.40" y="464.50" font-size="7.1" font-weight="bold" text-anchor="middle" fill="#222"  stroke="#222" stroke-width="0.28">10</text>
<line x1="125.65" y1="453.80" x2="125.65" y2="456.20" stroke="#151515" stroke-width="1.1" />
<text x="125.65" y="464.50" font-size="7.1" font-weight="bold" text-anchor="middle" fill="#222"  stroke="#222" stroke-width="0.28">15</text>
<line x1="144.90" y1="453.80" x2="144.90" y2="456.20" stroke="#151515" stroke-width="1.1" />
<text x="144.90" y="464.50" font-size="7.1" font-weight="bold" text-anchor="middle" fill="#222"  stroke="#222" stroke-width="0.28">20</text>
<line x1="164.15" y1="453.80" x2="164.15" y2="456.20" stroke="#151515" stroke-width="1.1" />
<text x="164.15" y="464.50" font-size="7.1" font-weight="bold" text-anchor="middle" fill="#222"  stroke="#222" stroke-width="0.28">25</text>
<line x1="183.40" y1="453.80" x2="183.40" y2="456.20" stroke="#151515" stroke-width="1.1" />
<text x="183.40" y="464.50" font-size="7.1" font-weight="bold" text-anchor="middle" fill="#222"  stroke="#222" stroke-width="0.28">30</text>
<line x1="202.65" y1="453.80" x2="202.65" y2="456.20" stroke="#151515" stroke-width="1.1" />
<text x="202.65" y="464.50" font-size="7.1" font-weight="bold" text-anchor="middle" fill="#222"  stroke="#222" stroke-width="0.28">35</text>
<line x1="221.90" y1="453.80" x2="221.90" y2="456.20" stroke="#151515" stroke-width="1.1" />
<text x="221.90" y="464.50" font-size="7.1" font-weight="bold" text-anchor="middle" fill="#222"  stroke="#222" stroke-width="0.28">40</text>
<text x="85.70" y="476.60" font-size="7.9" font-weight="bold" text-anchor="start" fill="#222"  stroke="#222" stroke-width="0.28" textLength="98.40" lengthAdjust="spacingAndGlyphs">Days post CAR treatment</text>
<text transform="translate(20.90,393.90) rotate(-90)" font-size="8.6" font-weight="bold" text-anchor="middle" fill="#222" textLength="92.80" lengthAdjust="spacingAndGlyphs" stroke="#222" stroke-width="0.28">Tumor volume (mm<tspan font-size="5.6" dy="-3.3">3</tspan><tspan dy="3.3">)</tspan></text>
<text x="124.00" y="346.50" font-size="9.7" font-weight="bold" text-anchor="start" fill="#111"  stroke="#111" stroke-width="0.28" textLength="29.00" lengthAdjust="spacingAndGlyphs">786-O</text>
<polyline points="64.05,431.10 75.60,424.60 94.85,425.60 106.40,418.50 121.80,412.90 133.35,403.30 148.75,398.10 160.30,388.00 175.70,382.90 187.25,363.00 202.65,357.60" fill="none" stroke="#151515" stroke-width="2.0" stroke-linejoin="round"/>
<line x1="106.40" y1="417.00" x2="106.40" y2="420.00" stroke="#151515" stroke-width="1.1" />
<line x1="104.20" y1="417.00" x2="108.60" y2="417.00" stroke="#151515" stroke-width="1.1" />
<line x1="104.20" y1="420.00" x2="108.60" y2="420.00" stroke="#151515" stroke-width="1.1" />
<line x1="121.80" y1="411.40" x2="121.80" y2="414.40" stroke="#151515" stroke-width="1.1" />
<line x1="119.60" y1="411.40" x2="124.00" y2="411.40" stroke="#151515" stroke-width="1.1" />
<line x1="119.60" y1="414.40" x2="124.00" y2="414.40" stroke="#151515" stroke-width="1.1" />
<line x1="133.35" y1="399.70" x2="133.35" y2="406.90" stroke="#151515" stroke-width="1.1" />
<line x1="131.15" y1="399.70" x2="135.55" y2="399.70" stroke="#151515" stroke-width="1.1" />
<line x1="131.15" y1="406.90" x2="135.55" y2="406.90" stroke="#151515" stroke-width="1.1" />
<line x1="148.75" y1="395.90" x2="148.75" y2="400.30" stroke="#151515" stroke-width="1.1" />
<line x1="146.55" y1="395.90" x2="150.95" y2="395.90" stroke="#151515" stroke-width="1.1" />
<line x1="146.55" y1="400.30" x2="150.95" y2="400.30" stroke="#151515" stroke-width="1.1" />
<line x1="160.30" y1="384.20" x2="160.30" y2="391.80" stroke="#151515" stroke-width="1.1" />
<line x1="158.10" y1="384.20" x2="162.50" y2="384.20" stroke="#151515" stroke-width="1.1" />
<line x1="158.10" y1="391.80" x2="162.50" y2="391.80" stroke="#151515" stroke-width="1.1" />
<line x1="175.70" y1="378.90" x2="175.70" y2="386.90" stroke="#151515" stroke-width="1.1" />
<line x1="173.50" y1="378.90" x2="177.90" y2="378.90" stroke="#151515" stroke-width="1.1" />
<line x1="173.50" y1="386.90" x2="177.90" y2="386.90" stroke="#151515" stroke-width="1.1" />
<line x1="187.25" y1="358.50" x2="187.25" y2="367.50" stroke="#151515" stroke-width="1.1" />
<line x1="185.05" y1="358.50" x2="189.45" y2="358.50" stroke="#151515" stroke-width="1.1" />
<line x1="185.05" y1="367.50" x2="189.45" y2="367.50" stroke="#151515" stroke-width="1.1" />
<line x1="202.65" y1="351.00" x2="202.65" y2="364.20" stroke="#151515" stroke-width="1.1" />
<line x1="200.45" y1="351.00" x2="204.85" y2="351.00" stroke="#151515" stroke-width="1.1" />
<line x1="200.45" y1="364.20" x2="204.85" y2="364.20" stroke="#151515" stroke-width="1.1" />
<circle cx="64.05" cy="431.10" r="2.10" fill="#151515"/>
<circle cx="75.60" cy="424.60" r="2.10" fill="#151515"/>
<circle cx="94.85" cy="425.60" r="2.10" fill="#151515"/>
<circle cx="106.40" cy="418.50" r="2.10" fill="#151515"/>
<circle cx="121.80" cy="412.90" r="2.10" fill="#151515"/>
<circle cx="133.35" cy="403.30" r="2.10" fill="#151515"/>
<circle cx="148.75" cy="398.10" r="2.10" fill="#151515"/>
<circle cx="160.30" cy="388.00" r="2.10" fill="#151515"/>
<circle cx="175.70" cy="382.90" r="2.10" fill="#151515"/>
<circle cx="187.25" cy="363.00" r="2.10" fill="#151515"/>
<circle cx="202.65" cy="357.60" r="2.10" fill="#151515"/>
<polyline points="64.05,431.10 75.60,424.60 94.85,424.00 106.40,421.00 121.80,416.30 133.35,409.80 148.75,404.40 160.30,396.20 175.70,388.00 187.25,379.80 202.65,372.80" fill="none" stroke="#151515" stroke-width="2.0" stroke-linejoin="round"/>
<line x1="121.80" y1="414.80" x2="121.80" y2="417.80" stroke="#151515" stroke-width="1.1" />
<line x1="119.60" y1="414.80" x2="124.00" y2="414.80" stroke="#151515" stroke-width="1.1" />
<line x1="119.60" y1="417.80" x2="124.00" y2="417.80" stroke="#151515" stroke-width="1.1" />
<line x1="133.35" y1="407.80" x2="133.35" y2="411.80" stroke="#151515" stroke-width="1.1" />
<line x1="131.15" y1="407.80" x2="135.55" y2="407.80" stroke="#151515" stroke-width="1.1" />
<line x1="131.15" y1="411.80" x2="135.55" y2="411.80" stroke="#151515" stroke-width="1.1" />
<line x1="148.75" y1="402.40" x2="148.75" y2="406.40" stroke="#151515" stroke-width="1.1" />
<line x1="146.55" y1="402.40" x2="150.95" y2="402.40" stroke="#151515" stroke-width="1.1" />
<line x1="146.55" y1="406.40" x2="150.95" y2="406.40" stroke="#151515" stroke-width="1.1" />
<line x1="160.30" y1="393.70" x2="160.30" y2="398.70" stroke="#151515" stroke-width="1.1" />
<line x1="158.10" y1="393.70" x2="162.50" y2="393.70" stroke="#151515" stroke-width="1.1" />
<line x1="158.10" y1="398.70" x2="162.50" y2="398.70" stroke="#151515" stroke-width="1.1" />
<line x1="175.70" y1="385.50" x2="175.70" y2="390.50" stroke="#151515" stroke-width="1.1" />
<line x1="173.50" y1="385.50" x2="177.90" y2="385.50" stroke="#151515" stroke-width="1.1" />
<line x1="173.50" y1="390.50" x2="177.90" y2="390.50" stroke="#151515" stroke-width="1.1" />
<line x1="187.25" y1="377.00" x2="187.25" y2="382.60" stroke="#151515" stroke-width="1.1" />
<line x1="185.05" y1="377.00" x2="189.45" y2="377.00" stroke="#151515" stroke-width="1.1" />
<line x1="185.05" y1="382.60" x2="189.45" y2="382.60" stroke="#151515" stroke-width="1.1" />
<line x1="202.65" y1="369.20" x2="202.65" y2="376.40" stroke="#151515" stroke-width="1.1" />
<line x1="200.45" y1="369.20" x2="204.85" y2="369.20" stroke="#151515" stroke-width="1.1" />
<line x1="200.45" y1="376.40" x2="204.85" y2="376.40" stroke="#151515" stroke-width="1.1" />
<circle cx="64.05" cy="431.10" r="1.95" fill="#fff" stroke="#151515" stroke-width="1.5"/>
<circle cx="75.60" cy="424.60" r="1.95" fill="#fff" stroke="#151515" stroke-width="1.5"/>
<circle cx="94.85" cy="424.00" r="1.95" fill="#fff" stroke="#151515" stroke-width="1.5"/>
<circle cx="106.40" cy="421.00" r="1.95" fill="#fff" stroke="#151515" stroke-width="1.5"/>
<circle cx="121.80" cy="416.30" r="1.95" fill="#fff" stroke="#151515" stroke-width="1.5"/>
<circle cx="133.35" cy="409.80" r="1.95" fill="#fff" stroke="#151515" stroke-width="1.5"/>
<circle cx="148.75" cy="404.40" r="1.95" fill="#fff" stroke="#151515" stroke-width="1.5"/>
<circle cx="160.30" cy="396.20" r="1.95" fill="#fff" stroke="#151515" stroke-width="1.5"/>
<circle cx="175.70" cy="388.00" r="1.95" fill="#fff" stroke="#151515" stroke-width="1.5"/>
<circle cx="187.25" cy="379.80" r="1.95" fill="#fff" stroke="#151515" stroke-width="1.5"/>
<circle cx="202.65" cy="372.80" r="1.95" fill="#fff" stroke="#151515" stroke-width="1.5"/>
<polyline points="64.05,431.10 75.60,426.00 94.85,439.70 106.40,450.50 121.80,454.00" fill="none" stroke="#17834A" stroke-width="2.0" stroke-linejoin="round"/>
<line x1="94.85" y1="438.20" x2="94.85" y2="441.20" stroke="#17834A" stroke-width="1.1" />
<line x1="92.65" y1="438.20" x2="97.05" y2="438.20" stroke="#17834A" stroke-width="1.1" />
<line x1="92.65" y1="441.20" x2="97.05" y2="441.20" stroke="#17834A" stroke-width="1.1" />
<line x1="106.40" y1="449.50" x2="106.40" y2="451.50" stroke="#17834A" stroke-width="1.1" />
<line x1="104.20" y1="449.50" x2="108.60" y2="449.50" stroke="#17834A" stroke-width="1.1" />
<line x1="104.20" y1="451.50" x2="108.60" y2="451.50" stroke="#17834A" stroke-width="1.1" />
<circle cx="64.05" cy="431.10" r="2.10" fill="#17834A"/>
<circle cx="75.60" cy="426.00" r="2.10" fill="#17834A"/>
<circle cx="94.85" cy="439.70" r="2.10" fill="#17834A"/>
<circle cx="106.40" cy="450.50" r="2.10" fill="#17834A"/>
<circle cx="121.80" cy="454.00" r="2.10" fill="#17834A"/>
<polyline points="64.05,431.10 75.60,425.60 94.85,436.10 106.40,448.00 121.80,453.60" fill="none" stroke="#17834A" stroke-width="2.0" stroke-linejoin="round"/>
<circle cx="64.05" cy="431.10" r="1.95" fill="#fff" stroke="#17834A" stroke-width="1.5"/>
<circle cx="75.60" cy="425.60" r="1.95" fill="#fff" stroke="#17834A" stroke-width="1.5"/>
<circle cx="94.85" cy="436.10" r="1.95" fill="#fff" stroke="#17834A" stroke-width="1.5"/>
<circle cx="106.40" cy="448.00" r="1.95" fill="#fff" stroke="#17834A" stroke-width="1.5"/>
<circle cx="121.80" cy="453.60" r="1.95" fill="#fff" stroke="#17834A" stroke-width="1.5"/>
<polyline points="64.05,431.10 75.60,424.60 94.85,423.40 106.40,436.90 121.80,436.10 133.35,432.40 148.75,427.90 160.30,426.20 175.70,419.20 187.25,405.60 202.65,405.60" fill="none" stroke="#E0202C" stroke-width="2.0" stroke-linejoin="round"/>
<line x1="106.40" y1="435.40" x2="106.40" y2="438.40" stroke="#E0202C" stroke-width="1.1" />
<line x1="104.20" y1="435.40" x2="108.60" y2="435.40" stroke="#E0202C" stroke-width="1.1" />
<line x1="104.20" y1="438.40" x2="108.60" y2="438.40" stroke="#E0202C" stroke-width="1.1" />
<line x1="121.80" y1="434.60" x2="121.80" y2="437.60" stroke="#E0202C" stroke-width="1.1" />
<line x1="119.60" y1="434.60" x2="124.00" y2="434.60" stroke="#E0202C" stroke-width="1.1" />
<line x1="119.60" y1="437.60" x2="124.00" y2="437.60" stroke="#E0202C" stroke-width="1.1" />
<line x1="133.35" y1="430.60" x2="133.35" y2="434.20" stroke="#E0202C" stroke-width="1.1" />
<line x1="131.15" y1="430.60" x2="135.55" y2="430.60" stroke="#E0202C" stroke-width="1.1" />
<line x1="131.15" y1="434.20" x2="135.55" y2="434.20" stroke="#E0202C" stroke-width="1.1" />
<line x1="148.75" y1="424.90" x2="148.75" y2="430.90" stroke="#E0202C" stroke-width="1.1" />
<line x1="146.55" y1="424.90" x2="150.95" y2="424.90" stroke="#E0202C" stroke-width="1.1" />
<line x1="146.55" y1="430.90" x2="150.95" y2="430.90" stroke="#E0202C" stroke-width="1.1" />
<line x1="160.30" y1="422.60" x2="160.30" y2="429.80" stroke="#E0202C" stroke-width="1.1" />
<line x1="158.10" y1="422.60" x2="162.50" y2="422.60" stroke="#E0202C" stroke-width="1.1" />
<line x1="158.10" y1="429.80" x2="162.50" y2="429.80" stroke="#E0202C" stroke-width="1.1" />
<line x1="175.70" y1="414.70" x2="175.70" y2="423.70" stroke="#E0202C" stroke-width="1.1" />
<line x1="173.50" y1="414.70" x2="177.90" y2="414.70" stroke="#E0202C" stroke-width="1.1" />
<line x1="173.50" y1="423.70" x2="177.90" y2="423.70" stroke="#E0202C" stroke-width="1.1" />
<line x1="187.25" y1="395.60" x2="187.25" y2="415.60" stroke="#E0202C" stroke-width="1.1" />
<line x1="185.05" y1="395.60" x2="189.45" y2="395.60" stroke="#E0202C" stroke-width="1.1" />
<line x1="185.05" y1="415.60" x2="189.45" y2="415.60" stroke="#E0202C" stroke-width="1.1" />
<line x1="202.65" y1="396.80" x2="202.65" y2="414.40" stroke="#E0202C" stroke-width="1.1" />
<line x1="200.45" y1="396.80" x2="204.85" y2="396.80" stroke="#E0202C" stroke-width="1.1" />
<line x1="200.45" y1="414.40" x2="204.85" y2="414.40" stroke="#E0202C" stroke-width="1.1" />
<circle cx="64.05" cy="431.10" r="2.10" fill="#E0202C"/>
<circle cx="75.60" cy="424.60" r="2.10" fill="#E0202C"/>
<circle cx="94.85" cy="423.40" r="2.10" fill="#E0202C"/>
<circle cx="106.40" cy="436.90" r="2.10" fill="#E0202C"/>
<circle cx="121.80" cy="436.10" r="2.10" fill="#E0202C"/>
<circle cx="133.35" cy="432.40" r="2.10" fill="#E0202C"/>
<circle cx="148.75" cy="427.90" r="2.10" fill="#E0202C"/>
<circle cx="160.30" cy="426.20" r="2.10" fill="#E0202C"/>
<circle cx="175.70" cy="419.20" r="2.10" fill="#E0202C"/>
<circle cx="187.25" cy="405.60" r="2.10" fill="#E0202C"/>
<circle cx="202.65" cy="405.60" r="2.10" fill="#E0202C"/>
<polyline points="64.05,431.10 75.60,424.80 94.85,421.00 106.40,437.10 121.80,449.50 133.35,453.20 148.75,453.40 160.30,453.40 175.70,453.40 187.25,453.40 202.65,453.40" fill="none" stroke="#E0202C" stroke-width="2.0" stroke-linejoin="round"/>
<circle cx="64.05" cy="431.10" r="1.95" fill="#fff" stroke="#E0202C" stroke-width="1.5"/>
<circle cx="75.60" cy="424.80" r="1.95" fill="#fff" stroke="#E0202C" stroke-width="1.5"/>
<circle cx="94.85" cy="421.00" r="1.95" fill="#fff" stroke="#E0202C" stroke-width="1.5"/>
<circle cx="106.40" cy="437.10" r="1.95" fill="#fff" stroke="#E0202C" stroke-width="1.5"/>
<circle cx="121.80" cy="449.50" r="1.95" fill="#fff" stroke="#E0202C" stroke-width="1.5"/>
<circle cx="133.35" cy="453.20" r="1.95" fill="#fff" stroke="#E0202C" stroke-width="1.5"/>
<circle cx="148.75" cy="453.40" r="1.95" fill="#fff" stroke="#E0202C" stroke-width="1.5"/>
<circle cx="160.30" cy="453.40" r="1.95" fill="#fff" stroke="#E0202C" stroke-width="1.5"/>
<circle cx="175.70" cy="453.40" r="1.95" fill="#fff" stroke="#E0202C" stroke-width="1.5"/>
<circle cx="187.25" cy="453.40" r="1.95" fill="#fff" stroke="#E0202C" stroke-width="1.5"/>
<circle cx="202.65" cy="453.40" r="1.95" fill="#fff" stroke="#E0202C" stroke-width="1.5"/>
<polyline points="225.9,404.5 234.6,404.5 234.6,450.2 225.9,450.2" fill="none" stroke="#444" stroke-width="0.9"/>
<text x="238.00" y="433.70" font-size="9.5" font-weight="bold" text-anchor="start" fill="#111"  stroke="#111" stroke-width="0.28">*</text>
<text x="208.30" y="411.60" font-size="9.5" font-weight="bold" text-anchor="start" fill="#111"  stroke="#111" stroke-width="0.28">**</text>
<text x="208.30" y="441.10" font-size="9.5" font-weight="bold" text-anchor="start" fill="#111"  stroke="#111" stroke-width="0.28">****</text>
<text x="208.30" y="447.90" font-size="9.5" font-weight="bold" text-anchor="start" fill="#111"  stroke="#111" stroke-width="0.28">****</text>
<text x="208.30" y="454.80" font-size="9.5" font-weight="bold" text-anchor="start" fill="#111"  stroke="#111" stroke-width="0.28">****</text>
<line x1="316.50" y1="339.60" x2="316.50" y2="453.30" stroke="#151515" stroke-width="1.5" />
<line x1="315.80" y1="452.60" x2="484.90" y2="452.60" stroke="#151515" stroke-width="1.5" />
<line x1="314.10" y1="452.60" x2="316.50" y2="452.60" stroke="#151515" stroke-width="1.1" />
<text x="309.70" y="455.10" font-size="7.6" font-weight="bold" text-anchor="end" fill="#222">10</text>
<text x="310.20" y="452.50" font-size="5.0" font-weight="normal" text-anchor="start" fill="#222" stroke="#222" stroke-width="0.15">5</text>
<line x1="314.10" y1="424.50" x2="316.50" y2="424.50" stroke="#151515" stroke-width="1.1" />
<text x="309.70" y="427.00" font-size="7.6" font-weight="bold" text-anchor="end" fill="#222">10</text>
<text x="310.20" y="424.40" font-size="5.0" font-weight="normal" text-anchor="start" fill="#222" stroke="#222" stroke-width="0.15">6</text>
<line x1="314.10" y1="396.40" x2="316.50" y2="396.40" stroke="#151515" stroke-width="1.1" />
<text x="309.70" y="398.90" font-size="7.6" font-weight="bold" text-anchor="end" fill="#222">10</text>
<text x="310.20" y="396.30" font-size="5.0" font-weight="normal" text-anchor="start" fill="#222" stroke="#222" stroke-width="0.15">7</text>
<line x1="314.10" y1="368.30" x2="316.50" y2="368.30" stroke="#151515" stroke-width="1.1" />
<text x="309.70" y="370.80" font-size="7.6" font-weight="bold" text-anchor="end" fill="#222">10</text>
<text x="310.20" y="368.20" font-size="5.0" font-weight="normal" text-anchor="start" fill="#222" stroke="#222" stroke-width="0.15">8</text>
<line x1="314.10" y1="340.20" x2="316.50" y2="340.20" stroke="#151515" stroke-width="1.1" />
<text x="309.70" y="342.70" font-size="7.6" font-weight="bold" text-anchor="end" fill="#222">10</text>
<text x="310.20" y="340.10" font-size="5.0" font-weight="normal" text-anchor="start" fill="#222" stroke="#222" stroke-width="0.15">9</text>
<line x1="315.90" y1="452.60" x2="315.90" y2="455.00" stroke="#151515" stroke-width="1.1" />
<text x="315.90" y="462.00" font-size="7.1" font-weight="bold" text-anchor="middle" fill="#222"  stroke="#222" stroke-width="0.28">−15</text>
<line x1="336.95" y1="452.60" x2="336.95" y2="455.00" stroke="#151515" stroke-width="1.1" />
<text x="336.95" y="462.00" font-size="7.1" font-weight="bold" text-anchor="middle" fill="#222"  stroke="#222" stroke-width="0.28">−10</text>
<line x1="358.00" y1="452.60" x2="358.00" y2="455.00" stroke="#151515" stroke-width="1.1" />
<text x="358.00" y="462.00" font-size="7.1" font-weight="bold" text-anchor="middle" fill="#222"  stroke="#222" stroke-width="0.28">−5</text>
<line x1="379.05" y1="452.60" x2="379.05" y2="455.00" stroke="#151515" stroke-width="1.1" />
<text x="379.05" y="462.00" font-size="7.1" font-weight="bold" text-anchor="middle" fill="#222"  stroke="#222" stroke-width="0.28">0</text>
<line x1="400.10" y1="452.60" x2="400.10" y2="455.00" stroke="#151515" stroke-width="1.1" />
<text x="400.10" y="462.00" font-size="7.1" font-weight="bold" text-anchor="middle" fill="#222"  stroke="#222" stroke-width="0.28">5</text>
<line x1="421.15" y1="452.60" x2="421.15" y2="455.00" stroke="#151515" stroke-width="1.1" />
<text x="421.15" y="462.00" font-size="7.1" font-weight="bold" text-anchor="middle" fill="#222"  stroke="#222" stroke-width="0.28">10</text>
<line x1="442.20" y1="452.60" x2="442.20" y2="455.00" stroke="#151515" stroke-width="1.1" />
<text x="442.20" y="462.00" font-size="7.1" font-weight="bold" text-anchor="middle" fill="#222"  stroke="#222" stroke-width="0.28">15</text>
<line x1="463.25" y1="452.60" x2="463.25" y2="455.00" stroke="#151515" stroke-width="1.1" />
<text x="463.25" y="462.00" font-size="7.1" font-weight="bold" text-anchor="middle" fill="#222"  stroke="#222" stroke-width="0.28">20</text>
<line x1="484.30" y1="452.60" x2="484.30" y2="455.00" stroke="#151515" stroke-width="1.1" />
<text x="484.30" y="462.00" font-size="7.1" font-weight="bold" text-anchor="middle" fill="#222"  stroke="#222" stroke-width="0.28">25</text>
<text x="351.80" y="474.40" font-size="7.9" font-weight="bold" text-anchor="start" fill="#222"  stroke="#222" stroke-width="0.28" textLength="97.60" lengthAdjust="spacingAndGlyphs">Days post CAR treatment</text>
<text transform="translate(297.00,393.50) rotate(-90)" font-size="8.3" font-weight="bold" text-anchor="middle" fill="#222" textLength="64.40" lengthAdjust="spacingAndGlyphs" stroke="#222" stroke-width="0.28">Total flux [p/s]</text>
<line x1="319.1" y1="435.7" x2="484.0" y2="435.7" stroke="#111" stroke-width="1.5" stroke-dasharray="1.2,2.3"/>
<text x="367.20" y="347.60" font-size="9.6" font-weight="bold" text-anchor="start" fill="#111"  stroke="#111" stroke-width="0.28" textLength="29.60" lengthAdjust="spacingAndGlyphs">ACHN</text>
<polyline points="379.05,393.60 391.68,397.00 408.52,395.60 421.15,396.20 437.99,389.20 450.62,378.50 463.25,379.60" fill="none" stroke="#17834A" stroke-width="2.0" stroke-linejoin="round"/>
<line x1="437.99" y1="387.40" x2="437.99" y2="391.00" stroke="#17834A" stroke-width="1.1" />
<line x1="435.79" y1="387.40" x2="440.19" y2="387.40" stroke="#17834A" stroke-width="1.1" />
<line x1="435.79" y1="391.00" x2="440.19" y2="391.00" stroke="#17834A" stroke-width="1.1" />
<line x1="450.62" y1="374.50" x2="450.62" y2="382.50" stroke="#17834A" stroke-width="1.1" />
<line x1="448.42" y1="374.50" x2="452.82" y2="374.50" stroke="#17834A" stroke-width="1.1" />
<line x1="448.42" y1="382.50" x2="452.82" y2="382.50" stroke="#17834A" stroke-width="1.1" />
<line x1="463.25" y1="374.60" x2="463.25" y2="384.60" stroke="#17834A" stroke-width="1.1" />
<line x1="461.05" y1="374.60" x2="465.45" y2="374.60" stroke="#17834A" stroke-width="1.1" />
<line x1="461.05" y1="384.60" x2="465.45" y2="384.60" stroke="#17834A" stroke-width="1.1" />
<circle cx="379.05" cy="393.60" r="2.10" fill="#17834A"/>
<circle cx="391.68" cy="397.00" r="2.10" fill="#17834A"/>
<circle cx="408.52" cy="395.60" r="2.10" fill="#17834A"/>
<circle cx="421.15" cy="396.20" r="2.10" fill="#17834A"/>
<circle cx="437.99" cy="389.20" r="2.10" fill="#17834A"/>
<circle cx="450.62" cy="378.50" r="2.10" fill="#17834A"/>
<circle cx="463.25" cy="379.60" r="2.10" fill="#17834A"/>
<polyline points="379.05,393.60 391.68,397.50 408.52,395.20 421.15,396.20 437.99,369.40 450.62,365.80 463.25,371.80" fill="none" stroke="#17834A" stroke-width="2.0" stroke-linejoin="round"/>
<line x1="391.68" y1="394.10" x2="391.68" y2="397.50" stroke="#17834A" stroke-width="1.1" />
<line x1="389.48" y1="394.10" x2="393.88" y2="394.10" stroke="#17834A" stroke-width="1.1" />
<line x1="408.52" y1="390.00" x2="408.52" y2="404.20" stroke="#17834A" stroke-width="1.1" />
<line x1="406.32" y1="390.00" x2="410.72" y2="390.00" stroke="#17834A" stroke-width="1.1" />
<line x1="406.32" y1="404.20" x2="410.72" y2="404.20" stroke="#17834A" stroke-width="1.1" />
<line x1="421.15" y1="394.20" x2="421.15" y2="398.20" stroke="#17834A" stroke-width="1.1" />
<line x1="418.95" y1="394.20" x2="423.35" y2="394.20" stroke="#17834A" stroke-width="1.1" />
<line x1="418.95" y1="398.20" x2="423.35" y2="398.20" stroke="#17834A" stroke-width="1.1" />
<circle cx="379.05" cy="393.60" r="1.95" fill="#fff" stroke="#17834A" stroke-width="1.5"/>
<circle cx="391.68" cy="397.50" r="1.95" fill="#fff" stroke="#17834A" stroke-width="1.5"/>
<circle cx="408.52" cy="395.20" r="1.95" fill="#fff" stroke="#17834A" stroke-width="1.5"/>
<circle cx="421.15" cy="396.20" r="1.95" fill="#fff" stroke="#17834A" stroke-width="1.5"/>
<circle cx="437.99" cy="369.40" r="1.95" fill="#fff" stroke="#17834A" stroke-width="1.5"/>
<circle cx="450.62" cy="365.80" r="1.95" fill="#fff" stroke="#17834A" stroke-width="1.5"/>
<circle cx="463.25" cy="371.80" r="1.95" fill="#fff" stroke="#17834A" stroke-width="1.5"/>
<polyline points="332.74,408.20 379.05,393.60 391.68,404.80 408.52,407.70 421.15,405.80 437.99,415.40 450.62,413.40 463.25,412.40" fill="none" stroke="#E0202C" stroke-width="2.0" stroke-linejoin="round"/>
<line x1="332.74" y1="403.90" x2="332.74" y2="412.50" stroke="#E0202C" stroke-width="1.1" />
<line x1="330.54" y1="403.90" x2="334.94" y2="403.90" stroke="#E0202C" stroke-width="1.1" />
<line x1="330.54" y1="412.50" x2="334.94" y2="412.50" stroke="#E0202C" stroke-width="1.1" />
<line x1="391.68" y1="402.80" x2="391.68" y2="406.80" stroke="#E0202C" stroke-width="1.1" />
<line x1="389.48" y1="402.80" x2="393.88" y2="402.80" stroke="#E0202C" stroke-width="1.1" />
<line x1="389.48" y1="406.80" x2="393.88" y2="406.80" stroke="#E0202C" stroke-width="1.1" />
<line x1="408.52" y1="406.20" x2="408.52" y2="409.20" stroke="#E0202C" stroke-width="1.1" />
<line x1="406.32" y1="406.20" x2="410.72" y2="406.20" stroke="#E0202C" stroke-width="1.1" />
<line x1="406.32" y1="409.20" x2="410.72" y2="409.20" stroke="#E0202C" stroke-width="1.1" />
<line x1="421.15" y1="402.30" x2="421.15" y2="409.30" stroke="#E0202C" stroke-width="1.1" />
<line x1="418.95" y1="402.30" x2="423.35" y2="402.30" stroke="#E0202C" stroke-width="1.1" />
<line x1="418.95" y1="409.30" x2="423.35" y2="409.30" stroke="#E0202C" stroke-width="1.1" />
<line x1="437.99" y1="413.90" x2="437.99" y2="416.90" stroke="#E0202C" stroke-width="1.1" />
<line x1="435.79" y1="413.90" x2="440.19" y2="413.90" stroke="#E0202C" stroke-width="1.1" />
<line x1="435.79" y1="416.90" x2="440.19" y2="416.90" stroke="#E0202C" stroke-width="1.1" />
<line x1="450.62" y1="411.80" x2="450.62" y2="415.00" stroke="#E0202C" stroke-width="1.1" />
<line x1="448.42" y1="411.80" x2="452.82" y2="411.80" stroke="#E0202C" stroke-width="1.1" />
<line x1="448.42" y1="415.00" x2="452.82" y2="415.00" stroke="#E0202C" stroke-width="1.1" />
<line x1="463.25" y1="410.40" x2="463.25" y2="414.40" stroke="#E0202C" stroke-width="1.1" />
<line x1="461.05" y1="410.40" x2="465.45" y2="410.40" stroke="#E0202C" stroke-width="1.1" />
<line x1="461.05" y1="414.40" x2="465.45" y2="414.40" stroke="#E0202C" stroke-width="1.1" />
<circle cx="332.74" cy="408.20" r="2.10" fill="#E0202C"/>
<circle cx="379.05" cy="393.60" r="2.10" fill="#E0202C"/>
<circle cx="391.68" cy="404.80" r="2.10" fill="#E0202C"/>
<circle cx="408.52" cy="407.70" r="2.10" fill="#E0202C"/>
<circle cx="421.15" cy="405.80" r="2.10" fill="#E0202C"/>
<circle cx="437.99" cy="415.40" r="2.10" fill="#E0202C"/>
<circle cx="450.62" cy="413.40" r="2.10" fill="#E0202C"/>
<circle cx="463.25" cy="412.40" r="2.10" fill="#E0202C"/>
<polyline points="332.74,407.20 379.05,393.60 391.68,398.50 408.52,409.40 421.15,411.50 437.99,420.80 450.62,420.40 463.25,419.20" fill="none" stroke="#E0202C" stroke-width="2.0" stroke-linejoin="round"/>
<line x1="391.68" y1="397.00" x2="391.68" y2="400.00" stroke="#E0202C" stroke-width="1.1" />
<line x1="389.48" y1="397.00" x2="393.88" y2="397.00" stroke="#E0202C" stroke-width="1.1" />
<line x1="389.48" y1="400.00" x2="393.88" y2="400.00" stroke="#E0202C" stroke-width="1.1" />
<line x1="421.15" y1="409.50" x2="421.15" y2="413.50" stroke="#E0202C" stroke-width="1.1" />
<line x1="418.95" y1="409.50" x2="423.35" y2="409.50" stroke="#E0202C" stroke-width="1.1" />
<line x1="418.95" y1="413.50" x2="423.35" y2="413.50" stroke="#E0202C" stroke-width="1.1" />
<line x1="463.25" y1="418.20" x2="463.25" y2="420.20" stroke="#E0202C" stroke-width="1.1" />
<line x1="461.05" y1="418.20" x2="465.45" y2="418.20" stroke="#E0202C" stroke-width="1.1" />
<line x1="461.05" y1="420.20" x2="465.45" y2="420.20" stroke="#E0202C" stroke-width="1.1" />
<circle cx="332.74" cy="407.20" r="1.95" fill="#fff" stroke="#E0202C" stroke-width="1.5"/>
<circle cx="379.05" cy="393.60" r="1.95" fill="#fff" stroke="#E0202C" stroke-width="1.5"/>
<circle cx="391.68" cy="398.50" r="1.95" fill="#fff" stroke="#E0202C" stroke-width="1.5"/>
<circle cx="408.52" cy="409.40" r="1.95" fill="#fff" stroke="#E0202C" stroke-width="1.5"/>
<circle cx="421.15" cy="411.50" r="1.95" fill="#fff" stroke="#E0202C" stroke-width="1.5"/>
<circle cx="437.99" cy="420.80" r="1.95" fill="#fff" stroke="#E0202C" stroke-width="1.5"/>
<circle cx="450.62" cy="420.40" r="1.95" fill="#fff" stroke="#E0202C" stroke-width="1.5"/>
<circle cx="463.25" cy="419.20" r="1.95" fill="#fff" stroke="#E0202C" stroke-width="1.5"/>
<polyline points="332.74,407.40 379.05,394.00 391.68,385.30 408.52,375.10 421.15,380.40 437.99,368.20 450.62,359.60 463.25,359.30" fill="none" stroke="#151515" stroke-width="2.0" stroke-linejoin="round"/>
<line x1="437.99" y1="365.20" x2="437.99" y2="371.20" stroke="#151515" stroke-width="1.1" />
<line x1="435.79" y1="365.20" x2="440.19" y2="365.20" stroke="#151515" stroke-width="1.1" />
<line x1="435.79" y1="371.20" x2="440.19" y2="371.20" stroke="#151515" stroke-width="1.1" />
<line x1="450.62" y1="356.60" x2="450.62" y2="362.60" stroke="#151515" stroke-width="1.1" />
<line x1="448.42" y1="356.60" x2="452.82" y2="356.60" stroke="#151515" stroke-width="1.1" />
<line x1="448.42" y1="362.60" x2="452.82" y2="362.60" stroke="#151515" stroke-width="1.1" />
<line x1="463.25" y1="355.80" x2="463.25" y2="362.80" stroke="#151515" stroke-width="1.1" />
<line x1="461.05" y1="355.80" x2="465.45" y2="355.80" stroke="#151515" stroke-width="1.1" />
<line x1="461.05" y1="362.80" x2="465.45" y2="362.80" stroke="#151515" stroke-width="1.1" />
<circle cx="332.74" cy="407.40" r="2.10" fill="#151515"/>
<circle cx="379.05" cy="394.00" r="2.10" fill="#151515"/>
<circle cx="391.68" cy="385.30" r="2.10" fill="#151515"/>
<circle cx="408.52" cy="375.10" r="2.10" fill="#151515"/>
<circle cx="421.15" cy="380.40" r="2.10" fill="#151515"/>
<circle cx="437.99" cy="368.20" r="2.10" fill="#151515"/>
<circle cx="450.62" cy="359.60" r="2.10" fill="#151515"/>
<circle cx="463.25" cy="359.30" r="2.10" fill="#151515"/>
<polyline points="332.74,406.50 379.05,393.50 391.68,385.30 408.52,375.10 421.15,376.80 437.99,349.60 450.62,348.10 463.25,345.80" fill="none" stroke="#151515" stroke-width="2.0" stroke-linejoin="round"/>
<line x1="391.68" y1="383.70" x2="391.68" y2="386.90" stroke="#151515" stroke-width="1.1" />
<line x1="389.48" y1="383.70" x2="393.88" y2="383.70" stroke="#151515" stroke-width="1.1" />
<line x1="389.48" y1="386.90" x2="393.88" y2="386.90" stroke="#151515" stroke-width="1.1" />
<line x1="408.52" y1="373.30" x2="408.52" y2="376.90" stroke="#151515" stroke-width="1.1" />
<line x1="406.32" y1="373.30" x2="410.72" y2="373.30" stroke="#151515" stroke-width="1.1" />
<line x1="406.32" y1="376.90" x2="410.72" y2="376.90" stroke="#151515" stroke-width="1.1" />
<line x1="463.25" y1="343.80" x2="463.25" y2="347.80" stroke="#151515" stroke-width="1.1" />
<line x1="461.05" y1="343.80" x2="465.45" y2="343.80" stroke="#151515" stroke-width="1.1" />
<line x1="461.05" y1="347.80" x2="465.45" y2="347.80" stroke="#151515" stroke-width="1.1" />
<circle cx="332.74" cy="406.50" r="1.95" fill="#fff" stroke="#151515" stroke-width="1.5"/>
<circle cx="379.05" cy="393.50" r="1.95" fill="#fff" stroke="#151515" stroke-width="1.5"/>
<circle cx="391.68" cy="385.30" r="1.95" fill="#fff" stroke="#151515" stroke-width="1.5"/>
<circle cx="408.52" cy="375.10" r="1.95" fill="#fff" stroke="#151515" stroke-width="1.5"/>
<circle cx="421.15" cy="376.80" r="1.95" fill="#fff" stroke="#151515" stroke-width="1.5"/>
<circle cx="437.99" cy="349.60" r="1.95" fill="#fff" stroke="#151515" stroke-width="1.5"/>
<circle cx="450.62" cy="348.10" r="1.95" fill="#fff" stroke="#151515" stroke-width="1.5"/>
<circle cx="463.25" cy="345.80" r="1.95" fill="#fff" stroke="#151515" stroke-width="1.5"/>
<text x="469.10" y="377.20" font-size="9.5" font-weight="bold" text-anchor="start" fill="#111"  stroke="#111" stroke-width="0.28">*</text>
<text x="467.30" y="383.60" font-size="9.4" font-weight="bold" text-anchor="start" fill="#111" stroke="#111" stroke-width="0.1">ns</text>
<text x="469.00" y="416.50" font-size="9.5" font-weight="bold" text-anchor="start" fill="#111"  stroke="#111" stroke-width="0.28">****</text>
<text x="469.00" y="425.10" font-size="9.5" font-weight="bold" text-anchor="start" fill="#111"  stroke="#111" stroke-width="0.28">****</text>
<line x1="169.60" y1="495.70" x2="179.60" y2="495.70" stroke="#151515" stroke-width="1.7" />
<circle cx="174.60" cy="495.70" r="2.30" fill="#151515"/>
<text x="181.20" y="498.20" font-size="7.15" font-weight="normal" text-anchor="start" fill="#333"  stroke="#333" stroke-width="0.08">NTD</text>
<line x1="169.60" y1="507.20" x2="179.60" y2="507.20" stroke="#151515" stroke-width="1.7" />
<circle cx="174.60" cy="507.20" r="1.95" fill="#fff" stroke="#151515" stroke-width="1.4"/>
<text x="181.20" y="509.70" font-size="7.15" font-weight="normal" text-anchor="start" fill="#333"  stroke="#333" stroke-width="0.08">NTD CD70 KO</text>
<line x1="242.10" y1="495.70" x2="252.10" y2="495.70" stroke="#E0202C" stroke-width="1.7" />
<circle cx="247.10" cy="495.70" r="2.30" fill="#E0202C"/>
<text x="254.20" y="498.20" font-size="7.15" font-weight="normal" text-anchor="start" fill="#333"  stroke="#333" stroke-width="0.08">CAR 23</text>
<line x1="242.10" y1="507.20" x2="252.10" y2="507.20" stroke="#E0202C" stroke-width="1.7" />
<circle cx="247.10" cy="507.20" r="1.95" fill="#fff" stroke="#E0202C" stroke-width="1.4"/>
<text x="254.20" y="509.70" font-size="7.15" font-weight="normal" text-anchor="start" fill="#333"  stroke="#333" stroke-width="0.08">CAR 23 CD70 KO</text>
<line x1="323.50" y1="495.70" x2="333.50" y2="495.70" stroke="#17834A" stroke-width="1.7" />
<circle cx="328.50" cy="495.70" r="2.30" fill="#17834A"/>
<text x="335.80" y="498.20" font-size="7.15" font-weight="normal" text-anchor="start" fill="#333"  stroke="#333" stroke-width="0.08">CAR 24</text>
<line x1="323.50" y1="507.20" x2="333.50" y2="507.20" stroke="#17834A" stroke-width="1.7" />
<circle cx="328.50" cy="507.20" r="1.95" fill="#fff" stroke="#17834A" stroke-width="1.4"/>
<text x="335.80" y="509.70" font-size="7.15" font-weight="normal" text-anchor="start" fill="#333"  stroke="#333" stroke-width="0.08">CAR 24 CD70 KO</text>
</svg>
</body></html>
